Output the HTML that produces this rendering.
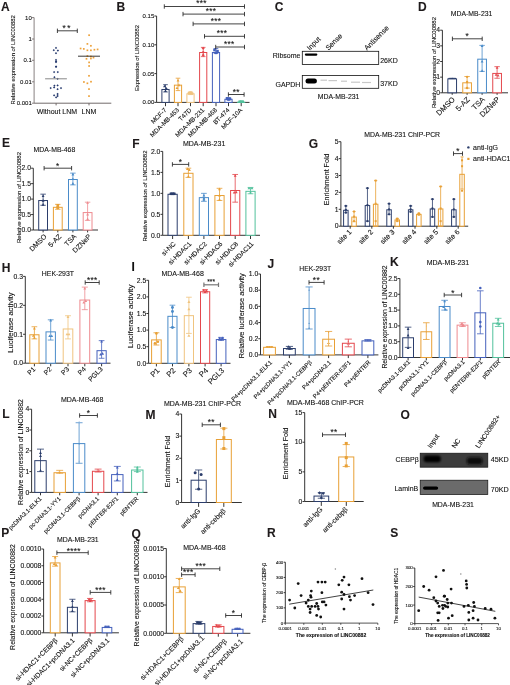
<!DOCTYPE html><html><head><meta charset="utf-8"><style>html,body{margin:0;padding:0;background:#fff}svg{display:block}</style></head><body><svg width="510" height="685" viewBox="0 0 510 685" font-family="Liberation Sans, Arial, sans-serif" fill="#111"><rect width="510" height="685" fill="#fff"/><text x="1" y="11.3" font-size="12" font-weight="bold" fill="#1e1a1b" stroke="#1e1a1b" stroke-width="0.1">A</text>
<line x1="34.1" y1="17.6" x2="34.1" y2="103.2" stroke="#6a6262" stroke-width="0.8"/>
<line x1="31.9" y1="17.6" x2="34.1" y2="17.6" stroke="#6a6262" stroke-width="0.8"/>
<text x="31.8" y="19.58" font-size="6" text-anchor="end" stroke="#111" stroke-width="0.1">10</text>
<line x1="31.9" y1="39" x2="34.1" y2="39" stroke="#6a6262" stroke-width="0.8"/>
<text x="31.8" y="40.98" font-size="6" text-anchor="end" stroke="#111" stroke-width="0.1">1</text>
<line x1="31.9" y1="60.3" x2="34.1" y2="60.3" stroke="#6a6262" stroke-width="0.8"/>
<text x="31.8" y="62.28" font-size="6" text-anchor="end" stroke="#111" stroke-width="0.1">0.1</text>
<line x1="31.9" y1="81.8" x2="34.1" y2="81.8" stroke="#6a6262" stroke-width="0.8"/>
<text x="31.8" y="83.78" font-size="6" text-anchor="end" stroke="#111" stroke-width="0.1">0.01</text>
<line x1="31.9" y1="103.2" x2="34.1" y2="103.2" stroke="#6a6262" stroke-width="0.8"/>
<text x="31.8" y="105.18" font-size="6" text-anchor="end" stroke="#111" stroke-width="0.1">0.001</text>
<line x1="34.1" y1="103.2" x2="111.3" y2="103.2" stroke="#6a6262" stroke-width="0.95"/>
<line x1="56.1" y1="103.2" x2="56.1" y2="105.4" stroke="#6a6262" stroke-width="0.95"/>
<line x1="89" y1="103.2" x2="89" y2="105.4" stroke="#6a6262" stroke-width="0.95"/>
<text x="15.4" y="59.8" font-size="5.9" text-anchor="middle" transform="rotate(-90 15.4 59.8)" stroke="#111" stroke-width="0.1">Relative expression of LINC00882</text>
<text x="56.9" y="114" font-size="7" text-anchor="middle" stroke="#111" stroke-width="0.1">Without LNM</text>
<text x="88.9" y="114" font-size="7" text-anchor="middle" stroke="#111" stroke-width="0.1">LNM</text>
<line x1="57.4" y1="30.8" x2="77.3" y2="30.8" stroke="#222" stroke-width="0.85"/>
<line x1="57.4" y1="28.6" x2="57.4" y2="33" stroke="#222" stroke-width="0.85"/>
<line x1="77.3" y1="28.6" x2="77.3" y2="33" stroke="#222" stroke-width="0.85"/>
<text x="67.35" y="31.1" font-size="8.2" text-anchor="middle" stroke="#111" stroke-width="0.1" letter-spacing="1.6">**</text>
<path d="M56 46.76L57.14 47.9L56 49.04L54.86 47.9Z" fill="#263a6e"/>
<path d="M53.8 49.06L54.94 50.2L53.8 51.34L52.66 50.2Z" fill="#263a6e"/>
<path d="M57.9 49.46L59.04 50.6L57.9 51.74L56.76 50.6Z" fill="#263a6e"/>
<path d="M56 52.06L57.14 53.2L56 54.34L54.86 53.2Z" fill="#263a6e"/>
<path d="M56 58.76L57.14 59.9L56 61.04L54.86 59.9Z" fill="#263a6e"/>
<path d="M56 60.86L57.14 62L56 63.14L54.86 62Z" fill="#263a6e"/>
<path d="M56 65.66L57.14 66.8L56 67.94L54.86 66.8Z" fill="#263a6e"/>
<path d="M56.1 60.26L57.24 61.4L56.1 62.54L54.96 61.4Z" fill="#263a6e"/>
<path d="M56.1 65.46L57.24 66.6L56.1 67.74L54.96 66.6Z" fill="#263a6e"/>
<path d="M54.1 70.96L55.24 72.1L54.1 73.24L52.96 72.1Z" fill="#263a6e"/>
<path d="M57.8 70.96L58.94 72.1L57.8 73.24L56.66 72.1Z" fill="#263a6e"/>
<path d="M54.4 76.06L55.54 77.2L54.4 78.34L53.26 77.2Z" fill="#263a6e"/>
<path d="M57.6 77.66L58.74 78.8L57.6 79.94L56.46 78.8Z" fill="#263a6e"/>
<path d="M54.4 84.56L55.54 85.7L54.4 86.84L53.26 85.7Z" fill="#263a6e"/>
<path d="M57.6 84.26L58.74 85.4L57.6 86.54L56.46 85.4Z" fill="#263a6e"/>
<path d="M50.7 86.96L51.84 88.1L50.7 89.24L49.56 88.1Z" fill="#263a6e"/>
<path d="M54.1 86.26L55.24 87.4L54.1 88.54L52.96 87.4Z" fill="#263a6e"/>
<path d="M57.6 88.06L58.74 89.2L57.6 90.34L56.46 89.2Z" fill="#263a6e"/>
<path d="M61 86.96L62.14 88.1L61 89.24L59.86 88.1Z" fill="#263a6e"/>
<path d="M54.1 94.16L55.24 95.3L54.1 96.44L52.96 95.3Z" fill="#263a6e"/>
<path d="M57.6 92.86L58.74 94L57.6 95.14L56.46 94Z" fill="#263a6e"/>
<path d="M57.6 94.86L58.74 96L57.6 97.14L56.46 96Z" fill="#263a6e"/>
<path d="M56.1 96.16L57.24 97.3L56.1 98.44L54.96 97.3Z" fill="#263a6e"/>
<line x1="45.1" y1="78.8" x2="66.9" y2="78.8" stroke="#888" stroke-width="1"/>
<rect x="88.25" y="34.35" width="1.7" height="1.7" fill="#eda13a"/>
<rect x="86.55" y="43.05" width="1.7" height="1.7" fill="#eda13a"/>
<rect x="90.05" y="44.95" width="1.7" height="1.7" fill="#eda13a"/>
<rect x="79.75" y="47.65" width="1.7" height="1.7" fill="#eda13a"/>
<rect x="82.95" y="48.05" width="1.7" height="1.7" fill="#eda13a"/>
<rect x="86.55" y="49.45" width="1.7" height="1.7" fill="#eda13a"/>
<rect x="90.05" y="49.45" width="1.7" height="1.7" fill="#eda13a"/>
<rect x="93.55" y="48.85" width="1.7" height="1.7" fill="#eda13a"/>
<rect x="96.75" y="48.55" width="1.7" height="1.7" fill="#eda13a"/>
<rect x="86.55" y="55.15" width="1.7" height="1.7" fill="#eda13a"/>
<rect x="90.05" y="55.65" width="1.7" height="1.7" fill="#eda13a"/>
<rect x="85.65" y="57.95" width="1.7" height="1.7" fill="#eda13a"/>
<rect x="90.05" y="57.65" width="1.7" height="1.7" fill="#eda13a"/>
<rect x="92.65" y="56.75" width="1.7" height="1.7" fill="#eda13a"/>
<rect x="88.25" y="61.55" width="1.7" height="1.7" fill="#eda13a"/>
<rect x="88.25" y="65.15" width="1.7" height="1.7" fill="#eda13a"/>
<rect x="88.15" y="74.95" width="1.7" height="1.7" fill="#eda13a"/>
<rect x="83.05" y="81.15" width="1.7" height="1.7" fill="#eda13a"/>
<rect x="86.55" y="82.45" width="1.7" height="1.7" fill="#eda13a"/>
<rect x="90.15" y="80.85" width="1.7" height="1.7" fill="#eda13a"/>
<rect x="88.15" y="88.25" width="1.7" height="1.7" fill="#eda13a"/>
<rect x="88.15" y="95.25" width="1.7" height="1.7" fill="#eda13a"/>
<line x1="78" y1="56.2" x2="100" y2="56.2" stroke="#222" stroke-width="0.9"/>
<text x="116.6" y="11.2" font-size="12" font-weight="bold" fill="#1e1a1b" stroke="#1e1a1b" stroke-width="0.1">B</text>
<line x1="156.6" y1="16" x2="156.6" y2="102.4" stroke="#2a2a2a" stroke-width="0.95"/>
<line x1="154.4" y1="16" x2="156.6" y2="16" stroke="#2a2a2a" stroke-width="0.95"/>
<text x="154.3" y="17.98" font-size="6" text-anchor="end" stroke="#111" stroke-width="0.1">0.15</text>
<line x1="154.4" y1="44.8" x2="156.6" y2="44.8" stroke="#2a2a2a" stroke-width="0.95"/>
<text x="154.3" y="46.78" font-size="6" text-anchor="end" stroke="#111" stroke-width="0.1">0.10</text>
<line x1="154.4" y1="73.6" x2="156.6" y2="73.6" stroke="#2a2a2a" stroke-width="0.95"/>
<text x="154.3" y="75.58" font-size="6" text-anchor="end" stroke="#111" stroke-width="0.1">0.05</text>
<line x1="154.4" y1="102.4" x2="156.6" y2="102.4" stroke="#2a2a2a" stroke-width="0.95"/>
<text x="154.3" y="104.38" font-size="6" text-anchor="end" stroke="#111" stroke-width="0.1">0.00</text>
<line x1="156.6" y1="102.4" x2="249.5" y2="102.4" stroke="#2a2a2a" stroke-width="0.95"/>
<line x1="165.5" y1="102.4" x2="165.5" y2="106.2" stroke="#2a2a2a" stroke-width="0.95"/>
<line x1="178" y1="102.4" x2="178" y2="106.2" stroke="#2a2a2a" stroke-width="0.95"/>
<line x1="190.5" y1="102.4" x2="190.5" y2="106.2" stroke="#2a2a2a" stroke-width="0.95"/>
<line x1="203.2" y1="102.4" x2="203.2" y2="106.2" stroke="#2a2a2a" stroke-width="0.95"/>
<line x1="216" y1="102.4" x2="216" y2="106.2" stroke="#2a2a2a" stroke-width="0.95"/>
<line x1="228.5" y1="102.4" x2="228.5" y2="106.2" stroke="#2a2a2a" stroke-width="0.95"/>
<line x1="241.2" y1="102.4" x2="241.2" y2="106.2" stroke="#2a2a2a" stroke-width="0.95"/>
<text x="138.97" y="58" font-size="5.8" text-anchor="middle" transform="rotate(-90 138.97 58)" stroke="#111" stroke-width="0.1">Expression of LINC00882</text>
<rect x="161.9" y="89.48" width="7.2" height="12.92" fill="#fff" stroke="#2b3d6b" stroke-width="1"/>
<line x1="165.5" y1="84.66" x2="165.5" y2="91.97" stroke="#2b3d6b" stroke-width="0.8"/>
<line x1="163.2" y1="84.66" x2="167.8" y2="84.66" stroke="#2b3d6b" stroke-width="0.8"/>
<line x1="163.2" y1="91.97" x2="167.8" y2="91.97" stroke="#2b3d6b" stroke-width="0.8"/>
<path d="M164.5 84.71L163.07 87.31L165.93 87.31Z" fill="#2b3d6b"/>
<path d="M166.5 87.02L165.07 89.62L167.93 89.62Z" fill="#2b3d6b"/>
<path d="M165.5 89.32L164.07 91.92L166.93 91.92Z" fill="#2b3d6b"/>
<rect x="174.4" y="85.16" width="7.2" height="17.24" fill="#fff" stroke="#e8a036" stroke-width="1"/>
<line x1="178" y1="78.21" x2="178" y2="90.59" stroke="#e8a036" stroke-width="0.8"/>
<line x1="175.7" y1="78.21" x2="180.3" y2="78.21" stroke="#e8a036" stroke-width="0.8"/>
<line x1="175.7" y1="90.59" x2="180.3" y2="90.59" stroke="#e8a036" stroke-width="0.8"/>
<path d="M178 78.95L176.57 81.55L179.43 81.55Z" fill="#e8a036"/>
<path d="M179 83.56L177.57 86.16L180.43 86.16Z" fill="#e8a036"/>
<path d="M177 86.44L175.57 89.04L178.43 89.04Z" fill="#e8a036"/>
<rect x="186.9" y="93.8" width="7.2" height="8.6" fill="#fff" stroke="#f0c47f" stroke-width="1"/>
<line x1="190.5" y1="91.92" x2="190.5" y2="94.57" stroke="#f0c47f" stroke-width="0.8"/>
<line x1="188.2" y1="91.92" x2="192.8" y2="91.92" stroke="#f0c47f" stroke-width="0.8"/>
<line x1="188.2" y1="94.57" x2="192.8" y2="94.57" stroke="#f0c47f" stroke-width="0.8"/>
<rect x="187.7" y="91.88" width="2.6" height="2.6" fill="#f0c47f"/>
<rect x="189.2" y="91.31" width="2.6" height="2.6" fill="#f0c47f"/>
<rect x="190.7" y="92.17" width="2.6" height="2.6" fill="#f0c47f"/>
<rect x="199.6" y="52.5" width="7.2" height="49.9" fill="#fff" stroke="#e4474c" stroke-width="1"/>
<line x1="203.2" y1="47.39" x2="203.2" y2="56.61" stroke="#e4474c" stroke-width="0.8"/>
<line x1="200.9" y1="47.39" x2="205.5" y2="47.39" stroke="#e4474c" stroke-width="0.8"/>
<line x1="200.9" y1="56.61" x2="205.5" y2="56.61" stroke="#e4474c" stroke-width="0.8"/>
<path d="M203.2 46.7L204.76 48.26L203.2 49.82L201.64 48.26Z" fill="#e4474c"/>
<path d="M203.2 53.61L204.76 55.17L203.2 56.73L201.64 55.17Z" fill="#e4474c"/>
<path d="M203.2 50.73L204.76 52.29L203.2 53.85L201.64 52.29Z" fill="#e4474c"/>
<rect x="212.4" y="52.5" width="7.2" height="49.9" fill="#fff" stroke="#4561bc" stroke-width="1"/>
<line x1="216" y1="48.54" x2="216" y2="53.44" stroke="#4561bc" stroke-width="0.8"/>
<line x1="213.7" y1="48.54" x2="218.3" y2="48.54" stroke="#4561bc" stroke-width="0.8"/>
<line x1="213.7" y1="53.44" x2="218.3" y2="53.44" stroke="#4561bc" stroke-width="0.8"/>
<rect x="213.2" y="48.68" width="2.6" height="2.6" fill="#4561bc"/>
<rect x="216.2" y="49.84" width="2.6" height="2.6" fill="#4561bc"/>
<rect x="214.7" y="51.56" width="2.6" height="2.6" fill="#4561bc"/>
<rect x="224.9" y="99.27" width="7.2" height="3.13" fill="#fff" stroke="#4561bc" stroke-width="1"/>
<line x1="228.5" y1="97.5" x2="228.5" y2="99.81" stroke="#4561bc" stroke-width="0.8"/>
<line x1="226.2" y1="97.5" x2="230.8" y2="97.5" stroke="#4561bc" stroke-width="0.8"/>
<line x1="226.2" y1="99.81" x2="230.8" y2="99.81" stroke="#4561bc" stroke-width="0.8"/>
<rect x="225.7" y="97.07" width="2.6" height="2.6" fill="#4561bc"/>
<rect x="228.7" y="97.64" width="2.6" height="2.6" fill="#4561bc"/>
<rect x="227.2" y="98.22" width="2.6" height="2.6" fill="#4561bc"/>
<rect x="237.6" y="102.21" width="7.2" height="0.19" fill="#fff" stroke="#52c19c" stroke-width="1"/>
<line x1="241.2" y1="101.36" x2="241.2" y2="101.94" stroke="#52c19c" stroke-width="0.8"/>
<line x1="238.9" y1="101.36" x2="243.5" y2="101.36" stroke="#52c19c" stroke-width="0.8"/>
<line x1="238.9" y1="101.94" x2="243.5" y2="101.94" stroke="#52c19c" stroke-width="0.8"/>
<rect x="238.4" y="100.41" width="2.6" height="2.6" fill="#52c19c"/>
<rect x="241.4" y="100.41" width="2.6" height="2.6" fill="#52c19c"/>
<rect x="239.9" y="100.41" width="2.6" height="2.6" fill="#52c19c"/>
<line x1="164.3" y1="6.5" x2="244.5" y2="6.5" stroke="#222" stroke-width="0.85"/>
<line x1="164.3" y1="4.3" x2="164.3" y2="8.7" stroke="#222" stroke-width="0.85"/>
<line x1="244.5" y1="4.3" x2="244.5" y2="8.7" stroke="#222" stroke-width="0.85"/>
<text x="201.6" y="6.2" font-size="8.2" text-anchor="middle" stroke="#111" stroke-width="0.1" letter-spacing="0.3">***</text>
<line x1="183" y1="14.1" x2="244.5" y2="14.1" stroke="#222" stroke-width="0.85"/>
<line x1="183" y1="11.9" x2="183" y2="16.3" stroke="#222" stroke-width="0.85"/>
<line x1="244.5" y1="11.9" x2="244.5" y2="16.3" stroke="#222" stroke-width="0.85"/>
<text x="210.95" y="13.8" font-size="8.2" text-anchor="middle" stroke="#111" stroke-width="0.1" letter-spacing="0.3">***</text>
<line x1="193.1" y1="23.9" x2="244.5" y2="23.9" stroke="#222" stroke-width="0.85"/>
<line x1="193.1" y1="21.7" x2="193.1" y2="26.1" stroke="#222" stroke-width="0.85"/>
<line x1="244.5" y1="21.7" x2="244.5" y2="26.1" stroke="#222" stroke-width="0.85"/>
<text x="216" y="23.6" font-size="8.2" text-anchor="middle" stroke="#111" stroke-width="0.1" letter-spacing="0.3">***</text>
<line x1="204.5" y1="36.3" x2="244.5" y2="36.3" stroke="#222" stroke-width="0.85"/>
<line x1="204.5" y1="34.1" x2="204.5" y2="38.5" stroke="#222" stroke-width="0.85"/>
<line x1="244.5" y1="34.1" x2="244.5" y2="38.5" stroke="#222" stroke-width="0.85"/>
<text x="221.9" y="36" font-size="8.2" text-anchor="middle" stroke="#111" stroke-width="0.1" letter-spacing="0.3">***</text>
<line x1="215.7" y1="47" x2="244.5" y2="47" stroke="#222" stroke-width="0.85"/>
<line x1="215.7" y1="44.8" x2="215.7" y2="49.2" stroke="#222" stroke-width="0.85"/>
<line x1="244.5" y1="44.8" x2="244.5" y2="49.2" stroke="#222" stroke-width="0.85"/>
<text x="229.3" y="46.7" font-size="8.2" text-anchor="middle" stroke="#111" stroke-width="0.1" letter-spacing="0.3">***</text>
<line x1="228.4" y1="94.5" x2="244.1" y2="94.5" stroke="#222" stroke-width="0.85"/>
<line x1="228.4" y1="92.3" x2="228.4" y2="96.7" stroke="#222" stroke-width="0.85"/>
<line x1="244.1" y1="92.3" x2="244.1" y2="96.7" stroke="#222" stroke-width="0.85"/>
<text x="236.25" y="94.5" font-size="8.2" text-anchor="middle" stroke="#111" stroke-width="0.1" letter-spacing="0.3">**</text>
<text x="167" y="110.5" font-size="6.3" text-anchor="end" transform="rotate(-45 167 110.5)" stroke="#111" stroke-width="0.1">MCF-7</text>
<text x="179.5" y="110.5" font-size="6.3" text-anchor="end" transform="rotate(-45 179.5 110.5)" stroke="#111" stroke-width="0.1">MDA-MB-453</text>
<text x="192" y="110.5" font-size="6.3" text-anchor="end" transform="rotate(-45 192 110.5)" stroke="#111" stroke-width="0.1">T47D</text>
<text x="204.7" y="110.5" font-size="6.3" text-anchor="end" transform="rotate(-45 204.7 110.5)" stroke="#111" stroke-width="0.1">MDA-MB-231</text>
<text x="217.5" y="110.5" font-size="6.3" text-anchor="end" transform="rotate(-45 217.5 110.5)" stroke="#111" stroke-width="0.1">MDA-MB-468</text>
<text x="230" y="110.5" font-size="6.3" text-anchor="end" transform="rotate(-45 230 110.5)" stroke="#111" stroke-width="0.1">BT-474</text>
<text x="242.7" y="110.5" font-size="6.3" text-anchor="end" transform="rotate(-45 242.7 110.5)" stroke="#111" stroke-width="0.1">MCF-10A</text>
<text x="274.8" y="11.1" font-size="12" font-weight="bold" fill="#1e1a1b" stroke="#1e1a1b" stroke-width="0.1">C</text>
<rect x="302.3" y="51.3" width="76.4" height="13.2" fill="#fff" stroke="#111" stroke-width="0.8"/>
<rect x="302.3" y="75.4" width="76.4" height="12.9" fill="#fff" stroke="#111" stroke-width="0.8"/>
<defs><filter id="bl1" x="-20%" y="-50%" width="140%" height="200%"><feGaussianBlur stdDeviation="0.5"/></filter><filter id="bl2" x="-20%" y="-50%" width="140%" height="200%"><feGaussianBlur stdDeviation="0.9"/></filter></defs>
<rect x="304.8" y="53.4" width="12.6" height="2.3" rx="1.1" fill="#000" filter="url(#bl1)"/>
<rect x="305.5" y="78.5" width="11.4" height="5.0" rx="2.5" fill="#000" filter="url(#bl1)"/>
<rect x="320.5" y="79.6" width="6.5" height="1.2" fill="#c8c8c8" filter="url(#bl1)"/>
<rect x="328.5" y="80" width="8.5" height="1.2" fill="#c8c8c8" filter="url(#bl1)"/>
<rect x="341" y="80.6" width="6" height="1.2" fill="#c8c8c8" filter="url(#bl1)"/>
<rect x="351" y="81.6" width="9" height="1.2" fill="#c8c8c8" filter="url(#bl1)"/>
<rect x="362" y="81.9" width="9" height="1.2" fill="#c8c8c8" filter="url(#bl1)"/>
<text x="300.4" y="58.1" font-size="7" text-anchor="end" stroke="#111" stroke-width="0.1">Ribsome</text>
<text x="300.4" y="87.4" font-size="7" text-anchor="end" stroke="#111" stroke-width="0.1">GAPDH</text>
<text x="380.2" y="63.4" font-size="7" stroke="#111" stroke-width="0.1">26KD</text>
<text x="380.2" y="85.7" font-size="7" stroke="#111" stroke-width="0.1">37KD</text>
<text x="338.6" y="98.9" font-size="6.9" text-anchor="middle" stroke="#111" stroke-width="0.1">MDA-MB-231</text>
<text x="309.8" y="50.8" font-size="7.2" transform="rotate(-45 309.8 50.8)" stroke="#111" stroke-width="0.1">Input</text>
<text x="328.4" y="50.8" font-size="7.2" transform="rotate(-45 328.4 50.8)" stroke="#111" stroke-width="0.1">Sense</text>
<text x="367" y="50.8" font-size="7.2" transform="rotate(-45 367 50.8)" stroke="#111" stroke-width="0.1">Antisense</text>
<text x="418" y="10.6" font-size="12" font-weight="bold" fill="#1e1a1b" stroke="#1e1a1b" stroke-width="0.1">D</text>
<text x="471.6" y="15.6" font-size="6.85" text-anchor="middle" stroke="#111" stroke-width="0.1">MDA-MB-231</text>
<line x1="442.4" y1="30.2" x2="442.4" y2="92.8" stroke="#2a2a2a" stroke-width="0.95"/>
<line x1="440.2" y1="30.2" x2="442.4" y2="30.2" stroke="#2a2a2a" stroke-width="0.95"/>
<text x="440.1" y="32.44" font-size="6.8" text-anchor="end" stroke="#111" stroke-width="0.1">4</text>
<line x1="440.2" y1="45.85" x2="442.4" y2="45.85" stroke="#2a2a2a" stroke-width="0.95"/>
<text x="440.1" y="48.09" font-size="6.8" text-anchor="end" stroke="#111" stroke-width="0.1">3</text>
<line x1="440.2" y1="61.5" x2="442.4" y2="61.5" stroke="#2a2a2a" stroke-width="0.95"/>
<text x="440.1" y="63.74" font-size="6.8" text-anchor="end" stroke="#111" stroke-width="0.1">2</text>
<line x1="440.2" y1="77.15" x2="442.4" y2="77.15" stroke="#2a2a2a" stroke-width="0.95"/>
<text x="440.1" y="79.39" font-size="6.8" text-anchor="end" stroke="#111" stroke-width="0.1">1</text>
<line x1="440.2" y1="92.8" x2="442.4" y2="92.8" stroke="#2a2a2a" stroke-width="0.95"/>
<text x="440.1" y="95.04" font-size="6.8" text-anchor="end" stroke="#111" stroke-width="0.1">0</text>
<line x1="442.4" y1="92.8" x2="508" y2="92.8" stroke="#2a2a2a" stroke-width="0.95"/>
<line x1="452.2" y1="92.8" x2="452.2" y2="94.8" stroke="#2a2a2a" stroke-width="0.95"/>
<line x1="467.1" y1="92.8" x2="467.1" y2="94.8" stroke="#2a2a2a" stroke-width="0.95"/>
<line x1="482.1" y1="92.8" x2="482.1" y2="94.8" stroke="#2a2a2a" stroke-width="0.95"/>
<line x1="497.1" y1="92.8" x2="497.1" y2="94.8" stroke="#2a2a2a" stroke-width="0.95"/>
<text x="436.34" y="62.5" font-size="6" text-anchor="middle" transform="rotate(-90 436.34 62.5)" stroke="#111" stroke-width="0.1">Relative expression of LINC00882</text>
<rect x="447.85" y="78.9" width="8.7" height="13.9" fill="#fff" stroke="#2b3d6b" stroke-width="1"/>
<line x1="452.2" y1="78.25" x2="452.2" y2="78.56" stroke="#2b3d6b" stroke-width="0.8"/>
<line x1="449.48" y1="78.25" x2="454.92" y2="78.25" stroke="#2b3d6b" stroke-width="0.8"/>
<line x1="449.48" y1="78.56" x2="454.92" y2="78.56" stroke="#2b3d6b" stroke-width="0.8"/>
<circle cx="449" cy="78.4" r="0.7" fill="#2b3d6b"/>
<circle cx="452.2" cy="78.4" r="0.7" fill="#2b3d6b"/>
<circle cx="455.4" cy="78.4" r="0.7" fill="#2b3d6b"/>
<rect x="462.75" y="82.81" width="8.7" height="9.99" fill="#fff" stroke="#e8a036" stroke-width="1"/>
<line x1="467.1" y1="76.52" x2="467.1" y2="88.11" stroke="#e8a036" stroke-width="0.8"/>
<line x1="464.38" y1="76.52" x2="469.82" y2="76.52" stroke="#e8a036" stroke-width="0.8"/>
<line x1="464.38" y1="88.11" x2="469.82" y2="88.11" stroke="#e8a036" stroke-width="0.8"/>
<circle cx="467.1" cy="76.84" r="1.2" fill="#e8a036"/>
<circle cx="467.1" cy="82" r="1.2" fill="#e8a036"/>
<circle cx="467.1" cy="87.95" r="1.2" fill="#e8a036"/>
<rect x="477.75" y="59.18" width="8.7" height="33.62" fill="#fff" stroke="#4a8bc9" stroke-width="1"/>
<line x1="482.1" y1="45.38" x2="482.1" y2="71.36" stroke="#4a8bc9" stroke-width="0.8"/>
<line x1="479.38" y1="45.38" x2="484.82" y2="45.38" stroke="#4a8bc9" stroke-width="0.8"/>
<line x1="479.38" y1="71.36" x2="484.82" y2="71.36" stroke="#4a8bc9" stroke-width="0.8"/>
<path d="M482.1 44.29L480.67 46.89L483.53 46.89Z" fill="#4a8bc9"/>
<path d="M482.1 59.94L480.67 62.54L483.53 62.54Z" fill="#4a8bc9"/>
<path d="M482.1 69.33L480.67 71.93L483.53 71.93Z" fill="#4a8bc9"/>
<rect x="492.75" y="73.42" width="8.7" height="19.38" fill="#fff" stroke="#e4474c" stroke-width="1"/>
<line x1="497.1" y1="66.66" x2="497.1" y2="78.25" stroke="#e4474c" stroke-width="0.8"/>
<line x1="494.38" y1="66.66" x2="499.82" y2="66.66" stroke="#e4474c" stroke-width="0.8"/>
<line x1="494.38" y1="78.25" x2="499.82" y2="78.25" stroke="#e4474c" stroke-width="0.8"/>
<path d="M497.1 66.2L495.67 68.8L498.53 68.8Z" fill="#e4474c"/>
<path d="M496.1 73.24L494.67 75.84L497.53 75.84Z" fill="#e4474c"/>
<path d="M498.1 74.02L496.67 76.62L499.53 76.62Z" fill="#e4474c"/>
<line x1="452.4" y1="38.8" x2="482.2" y2="38.8" stroke="#222" stroke-width="0.85"/>
<line x1="452.4" y1="36.6" x2="452.4" y2="41" stroke="#222" stroke-width="0.85"/>
<line x1="482.2" y1="36.6" x2="482.2" y2="41" stroke="#222" stroke-width="0.85"/>
<text x="467.3" y="39.4" font-size="8.2" text-anchor="middle" stroke="#111" stroke-width="0.1" letter-spacing="0.3">*</text>
<text x="455.4" y="100" font-size="7.6" text-anchor="end" transform="rotate(-45 455.4 100)" stroke="#111" stroke-width="0.1">DMSO</text>
<text x="470.3" y="100" font-size="7.6" text-anchor="end" transform="rotate(-45 470.3 100)" stroke="#111" stroke-width="0.1">5-AZ</text>
<text x="485.3" y="100" font-size="7.6" text-anchor="end" transform="rotate(-45 485.3 100)" stroke="#111" stroke-width="0.1">TSA</text>
<text x="500.3" y="100" font-size="7.6" text-anchor="end" transform="rotate(-45 500.3 100)" stroke="#111" stroke-width="0.1">DZNeP</text>
<text x="2" y="147.3" font-size="12" font-weight="bold" fill="#1e1a1b" stroke="#1e1a1b" stroke-width="0.1">E</text>
<text x="54.4" y="152" font-size="6.9" text-anchor="middle" stroke="#111" stroke-width="0.1">MDA-MB-468</text>
<line x1="33.3" y1="168.2" x2="33.3" y2="230" stroke="#2a2a2a" stroke-width="0.95"/>
<line x1="31.1" y1="168.2" x2="33.3" y2="168.2" stroke="#2a2a2a" stroke-width="0.95"/>
<text x="31" y="170.44" font-size="6.8" text-anchor="end" stroke="#111" stroke-width="0.1">2.0</text>
<line x1="31.1" y1="183.65" x2="33.3" y2="183.65" stroke="#2a2a2a" stroke-width="0.95"/>
<text x="31" y="185.89" font-size="6.8" text-anchor="end" stroke="#111" stroke-width="0.1">1.5</text>
<line x1="31.1" y1="199.1" x2="33.3" y2="199.1" stroke="#2a2a2a" stroke-width="0.95"/>
<text x="31" y="201.34" font-size="6.8" text-anchor="end" stroke="#111" stroke-width="0.1">1.0</text>
<line x1="31.1" y1="214.55" x2="33.3" y2="214.55" stroke="#2a2a2a" stroke-width="0.95"/>
<text x="31" y="216.79" font-size="6.8" text-anchor="end" stroke="#111" stroke-width="0.1">0.5</text>
<line x1="31.1" y1="230" x2="33.3" y2="230" stroke="#2a2a2a" stroke-width="0.95"/>
<text x="31" y="232.24" font-size="6.8" text-anchor="end" stroke="#111" stroke-width="0.1">0.0</text>
<line x1="33.3" y1="230" x2="98" y2="230" stroke="#2a2a2a" stroke-width="0.95"/>
<line x1="43.1" y1="230" x2="43.1" y2="232.4" stroke="#2a2a2a" stroke-width="0.95"/>
<line x1="57.8" y1="230" x2="57.8" y2="232.4" stroke="#2a2a2a" stroke-width="0.95"/>
<line x1="72.9" y1="230" x2="72.9" y2="232.4" stroke="#2a2a2a" stroke-width="0.95"/>
<line x1="87.6" y1="230" x2="87.6" y2="232.4" stroke="#2a2a2a" stroke-width="0.95"/>
<text x="20.94" y="197.5" font-size="6" text-anchor="middle" transform="rotate(-90 20.94 197.5)" stroke="#111" stroke-width="0.1">Relative expression of LINC00882</text>
<rect x="38.7" y="200.53" width="8.8" height="29.47" fill="#fff" stroke="#2b3d6b" stroke-width="1"/>
<line x1="43.1" y1="194.16" x2="43.1" y2="205.28" stroke="#2b3d6b" stroke-width="0.8"/>
<line x1="40.36" y1="194.16" x2="45.84" y2="194.16" stroke="#2b3d6b" stroke-width="0.8"/>
<line x1="40.36" y1="205.28" x2="45.84" y2="205.28" stroke="#2b3d6b" stroke-width="0.8"/>
<path d="M43.1 194.45L41.67 197.05L44.53 197.05Z" fill="#2b3d6b"/>
<path d="M43.1 199.08L41.67 201.68L44.53 201.68Z" fill="#2b3d6b"/>
<path d="M43.1 203.1L41.67 205.7L44.53 205.7Z" fill="#2b3d6b"/>
<rect x="53.4" y="207.32" width="8.8" height="22.68" fill="#fff" stroke="#e8a036" stroke-width="1"/>
<line x1="57.8" y1="204.35" x2="57.8" y2="209.3" stroke="#e8a036" stroke-width="0.8"/>
<line x1="55.06" y1="204.35" x2="60.54" y2="204.35" stroke="#e8a036" stroke-width="0.8"/>
<line x1="55.06" y1="209.3" x2="60.54" y2="209.3" stroke="#e8a036" stroke-width="0.8"/>
<rect x="56.5" y="203.98" width="2.6" height="2.6" fill="#e8a036"/>
<rect x="56.5" y="206.14" width="2.6" height="2.6" fill="#e8a036"/>
<rect x="56.5" y="206.45" width="2.6" height="2.6" fill="#e8a036"/>
<rect x="68.5" y="179.51" width="8.8" height="50.49" fill="#fff" stroke="#4a8bc9" stroke-width="1"/>
<line x1="72.9" y1="173.14" x2="72.9" y2="184.89" stroke="#4a8bc9" stroke-width="0.8"/>
<line x1="70.16" y1="173.14" x2="75.64" y2="173.14" stroke="#4a8bc9" stroke-width="0.8"/>
<line x1="70.16" y1="184.89" x2="75.64" y2="184.89" stroke="#4a8bc9" stroke-width="0.8"/>
<path d="M72.9 172.82L71.47 175.42L74.33 175.42Z" fill="#4a8bc9"/>
<path d="M72.9 177.45L71.47 180.05L74.33 180.05Z" fill="#4a8bc9"/>
<path d="M72.9 182.09L71.47 184.69L74.33 184.69Z" fill="#4a8bc9"/>
<rect x="83.2" y="212.58" width="8.8" height="17.42" fill="#fff" stroke="#ee8a8f" stroke-width="1"/>
<line x1="87.6" y1="202.19" x2="87.6" y2="220.42" stroke="#ee8a8f" stroke-width="0.8"/>
<line x1="84.86" y1="202.19" x2="90.34" y2="202.19" stroke="#ee8a8f" stroke-width="0.8"/>
<line x1="84.86" y1="220.42" x2="90.34" y2="220.42" stroke="#ee8a8f" stroke-width="0.8"/>
<path d="M87.6 201.25L86.17 203.85L89.03 203.85Z" fill="#ee8a8f"/>
<path d="M87.6 212.99L86.17 215.59L89.03 215.59Z" fill="#ee8a8f"/>
<path d="M87.6 217.62L86.17 220.22L89.03 220.22Z" fill="#ee8a8f"/>
<line x1="44.1" y1="168.2" x2="71.6" y2="168.2" stroke="#222" stroke-width="0.85"/>
<line x1="44.1" y1="166" x2="44.1" y2="170.4" stroke="#222" stroke-width="0.85"/>
<line x1="71.6" y1="166" x2="71.6" y2="170.4" stroke="#222" stroke-width="0.85"/>
<text x="57.85" y="168.8" font-size="8.2" text-anchor="middle" stroke="#111" stroke-width="0.1" letter-spacing="0.3">*</text>
<text x="47.1" y="237" font-size="7" text-anchor="end" transform="rotate(-45 47.1 237)" stroke="#111" stroke-width="0.1">DMSO</text>
<text x="61.8" y="237" font-size="7" text-anchor="end" transform="rotate(-45 61.8 237)" stroke="#111" stroke-width="0.1">5-AZ</text>
<text x="76.9" y="237" font-size="7" text-anchor="end" transform="rotate(-45 76.9 237)" stroke="#111" stroke-width="0.1">TSA</text>
<text x="91.6" y="237" font-size="7" text-anchor="end" transform="rotate(-45 91.6 237)" stroke="#111" stroke-width="0.1">DZNeP</text>
<text x="132.2" y="147.5" font-size="12" font-weight="bold" fill="#1e1a1b" stroke="#1e1a1b" stroke-width="0.1">F</text>
<text x="204.1" y="146" font-size="7" text-anchor="middle" stroke="#111" stroke-width="0.1">MDA-MB-231</text>
<line x1="162.7" y1="151.4" x2="162.7" y2="235.3" stroke="#2a2a2a" stroke-width="0.95"/>
<line x1="160.5" y1="151.4" x2="162.7" y2="151.4" stroke="#2a2a2a" stroke-width="0.95"/>
<text x="160.4" y="153.64" font-size="6.8" text-anchor="end" stroke="#111" stroke-width="0.1">2.0</text>
<line x1="160.5" y1="172.38" x2="162.7" y2="172.38" stroke="#2a2a2a" stroke-width="0.95"/>
<text x="160.4" y="174.62" font-size="6.8" text-anchor="end" stroke="#111" stroke-width="0.1">1.5</text>
<line x1="160.5" y1="193.35" x2="162.7" y2="193.35" stroke="#2a2a2a" stroke-width="0.95"/>
<text x="160.4" y="195.59" font-size="6.8" text-anchor="end" stroke="#111" stroke-width="0.1">1.0</text>
<line x1="160.5" y1="214.33" x2="162.7" y2="214.33" stroke="#2a2a2a" stroke-width="0.95"/>
<text x="160.4" y="216.57" font-size="6.8" text-anchor="end" stroke="#111" stroke-width="0.1">0.5</text>
<line x1="160.5" y1="235.3" x2="162.7" y2="235.3" stroke="#2a2a2a" stroke-width="0.95"/>
<text x="160.4" y="237.54" font-size="6.8" text-anchor="end" stroke="#111" stroke-width="0.1">0.0</text>
<line x1="162.7" y1="235.3" x2="260" y2="235.3" stroke="#2a2a2a" stroke-width="0.95"/>
<line x1="172.6" y1="235.3" x2="172.6" y2="239" stroke="#2a2a2a" stroke-width="0.95"/>
<line x1="188.4" y1="235.3" x2="188.4" y2="239" stroke="#2a2a2a" stroke-width="0.95"/>
<line x1="203.9" y1="235.3" x2="203.9" y2="239" stroke="#2a2a2a" stroke-width="0.95"/>
<line x1="219.5" y1="235.3" x2="219.5" y2="239" stroke="#2a2a2a" stroke-width="0.95"/>
<line x1="235.2" y1="235.3" x2="235.2" y2="239" stroke="#2a2a2a" stroke-width="0.95"/>
<line x1="250.5" y1="235.3" x2="250.5" y2="239" stroke="#2a2a2a" stroke-width="0.95"/>
<text x="146.64" y="196" font-size="6" text-anchor="middle" transform="rotate(-90 146.64 196)" stroke="#111" stroke-width="0.1">Relative expression of LINC00882</text>
<rect x="168" y="194.27" width="9.2" height="41.03" fill="#fff" stroke="#2b3d6b" stroke-width="1"/>
<line x1="172.6" y1="193.35" x2="172.6" y2="194.19" stroke="#2b3d6b" stroke-width="0.8"/>
<line x1="169.74" y1="193.35" x2="175.46" y2="193.35" stroke="#2b3d6b" stroke-width="0.8"/>
<line x1="169.74" y1="194.19" x2="175.46" y2="194.19" stroke="#2b3d6b" stroke-width="0.8"/>
<rect x="169.8" y="192.47" width="2.6" height="2.6" fill="#2b3d6b"/>
<rect x="171.3" y="192.47" width="2.6" height="2.6" fill="#2b3d6b"/>
<rect x="172.8" y="192.47" width="2.6" height="2.6" fill="#2b3d6b"/>
<rect x="183.8" y="173.29" width="9.2" height="62.01" fill="#fff" stroke="#e8a036" stroke-width="1"/>
<line x1="188.4" y1="168.18" x2="188.4" y2="177.41" stroke="#e8a036" stroke-width="0.8"/>
<line x1="185.54" y1="168.18" x2="191.26" y2="168.18" stroke="#e8a036" stroke-width="0.8"/>
<line x1="185.54" y1="177.41" x2="191.26" y2="177.41" stroke="#e8a036" stroke-width="0.8"/>
<path d="M187.4 167.46L185.97 170.06L188.83 170.06Z" fill="#e8a036"/>
<path d="M189.4 168.3L187.97 170.9L190.83 170.9Z" fill="#e8a036"/>
<path d="M188.4 175.01L186.97 177.61L189.83 177.61Z" fill="#e8a036"/>
<rect x="199.3" y="197.63" width="9.2" height="37.67" fill="#fff" stroke="#4a8bc9" stroke-width="1"/>
<line x1="203.9" y1="193.35" x2="203.9" y2="201.32" stroke="#4a8bc9" stroke-width="0.8"/>
<line x1="201.04" y1="193.35" x2="206.76" y2="193.35" stroke="#4a8bc9" stroke-width="0.8"/>
<line x1="201.04" y1="201.32" x2="206.76" y2="201.32" stroke="#4a8bc9" stroke-width="0.8"/>
<path d="M203.9 193.89L202.47 196.49L205.33 196.49Z" fill="#4a8bc9"/>
<path d="M203.9 198.08L202.47 200.68L205.33 200.68Z" fill="#4a8bc9"/>
<path d="M203.9 196.82L202.47 199.42L205.33 199.42Z" fill="#4a8bc9"/>
<rect x="214.9" y="195.53" width="9.2" height="39.77" fill="#fff" stroke="#e8a036" stroke-width="1"/>
<line x1="219.5" y1="188.32" x2="219.5" y2="200.48" stroke="#e8a036" stroke-width="0.8"/>
<line x1="216.64" y1="188.32" x2="222.36" y2="188.32" stroke="#e8a036" stroke-width="0.8"/>
<line x1="216.64" y1="200.48" x2="222.36" y2="200.48" stroke="#e8a036" stroke-width="0.8"/>
<path d="M219.5 187.59L218.07 190.19L220.93 190.19Z" fill="#e8a036"/>
<path d="M219.5 193.89L218.07 196.49L220.93 196.49Z" fill="#e8a036"/>
<path d="M219.5 198.08L218.07 200.68L220.93 200.68Z" fill="#e8a036"/>
<rect x="230.6" y="190.49" width="9.2" height="44.81" fill="#fff" stroke="#e4474c" stroke-width="1"/>
<line x1="235.2" y1="174.47" x2="235.2" y2="202.16" stroke="#e4474c" stroke-width="0.8"/>
<line x1="232.34" y1="174.47" x2="238.06" y2="174.47" stroke="#e4474c" stroke-width="0.8"/>
<line x1="232.34" y1="202.16" x2="238.06" y2="202.16" stroke="#e4474c" stroke-width="0.8"/>
<path d="M235.2 174.17L233.77 176.77L236.63 176.77Z" fill="#e4474c"/>
<path d="M234.2 190.95L232.77 193.55L235.63 193.55Z" fill="#e4474c"/>
<path d="M236.2 190.53L234.77 193.13L237.63 193.13Z" fill="#e4474c"/>
<rect x="245.9" y="191.33" width="9.2" height="43.97" fill="#fff" stroke="#52c19c" stroke-width="1"/>
<line x1="250.5" y1="187.48" x2="250.5" y2="193.77" stroke="#52c19c" stroke-width="0.8"/>
<line x1="247.64" y1="187.48" x2="253.36" y2="187.48" stroke="#52c19c" stroke-width="0.8"/>
<line x1="247.64" y1="193.77" x2="253.36" y2="193.77" stroke="#52c19c" stroke-width="0.8"/>
<path d="M249 186.76L247.57 189.36L250.43 189.36Z" fill="#52c19c"/>
<path d="M252 186.76L250.57 189.36L253.43 189.36Z" fill="#52c19c"/>
<path d="M250.5 190.95L249.07 193.55L251.93 193.55Z" fill="#52c19c"/>
<line x1="172.4" y1="164.4" x2="188.7" y2="164.4" stroke="#222" stroke-width="0.85"/>
<line x1="172.4" y1="162.2" x2="172.4" y2="166.6" stroke="#222" stroke-width="0.85"/>
<line x1="188.7" y1="162.2" x2="188.7" y2="166.6" stroke="#222" stroke-width="0.85"/>
<text x="180.55" y="165" font-size="8.2" text-anchor="middle" stroke="#111" stroke-width="0.1" letter-spacing="0.3">*</text>
<text x="176" y="244.3" font-size="6.6" text-anchor="end" transform="rotate(-45 176 244.3)" stroke="#111" stroke-width="0.1">si-NC</text>
<text x="191.8" y="244.3" font-size="6.6" text-anchor="end" transform="rotate(-45 191.8 244.3)" stroke="#111" stroke-width="0.1">si-HDAC1</text>
<text x="207.3" y="244.3" font-size="6.6" text-anchor="end" transform="rotate(-45 207.3 244.3)" stroke="#111" stroke-width="0.1">si-HDAC2</text>
<text x="222.9" y="244.3" font-size="6.6" text-anchor="end" transform="rotate(-45 222.9 244.3)" stroke="#111" stroke-width="0.1">si-HDAC6</text>
<text x="238.6" y="244.3" font-size="6.6" text-anchor="end" transform="rotate(-45 238.6 244.3)" stroke="#111" stroke-width="0.1">si-HDAC8</text>
<text x="253.9" y="244.3" font-size="6.6" text-anchor="end" transform="rotate(-45 253.9 244.3)" stroke="#111" stroke-width="0.1">si-HDAC11</text>
<text x="308.8" y="147.5" font-size="12" font-weight="bold" fill="#1e1a1b" stroke="#1e1a1b" stroke-width="0.1">G</text>
<text x="402.2" y="136.7" font-size="6.9" text-anchor="middle" stroke="#111" stroke-width="0.1">MDA-MB-231 ChIP-PCR</text>
<line x1="340.9" y1="141.7" x2="340.9" y2="226.2" stroke="#2a2a2a" stroke-width="0.95"/>
<line x1="338.7" y1="141.7" x2="340.9" y2="141.7" stroke="#2a2a2a" stroke-width="0.95"/>
<text x="338.6" y="143.94" font-size="6.8" text-anchor="end" stroke="#111" stroke-width="0.1">5</text>
<line x1="338.7" y1="158.6" x2="340.9" y2="158.6" stroke="#2a2a2a" stroke-width="0.95"/>
<text x="338.6" y="160.84" font-size="6.8" text-anchor="end" stroke="#111" stroke-width="0.1">4</text>
<line x1="338.7" y1="175.5" x2="340.9" y2="175.5" stroke="#2a2a2a" stroke-width="0.95"/>
<text x="338.6" y="177.74" font-size="6.8" text-anchor="end" stroke="#111" stroke-width="0.1">3</text>
<line x1="338.7" y1="192.4" x2="340.9" y2="192.4" stroke="#2a2a2a" stroke-width="0.95"/>
<text x="338.6" y="194.64" font-size="6.8" text-anchor="end" stroke="#111" stroke-width="0.1">2</text>
<line x1="338.7" y1="209.3" x2="340.9" y2="209.3" stroke="#2a2a2a" stroke-width="0.95"/>
<text x="338.6" y="211.54" font-size="6.8" text-anchor="end" stroke="#111" stroke-width="0.1">1</text>
<line x1="338.7" y1="226.2" x2="340.9" y2="226.2" stroke="#2a2a2a" stroke-width="0.95"/>
<text x="338.6" y="228.44" font-size="6.8" text-anchor="end" stroke="#111" stroke-width="0.1">0</text>
<line x1="340.9" y1="226.2" x2="468.2" y2="226.2" stroke="#2a2a2a" stroke-width="0.95"/>
<line x1="350.2" y1="226.2" x2="350.2" y2="228.7" stroke="#2a2a2a" stroke-width="0.95"/>
<line x1="371.8" y1="226.2" x2="371.8" y2="228.7" stroke="#2a2a2a" stroke-width="0.95"/>
<line x1="393.4" y1="226.2" x2="393.4" y2="228.7" stroke="#2a2a2a" stroke-width="0.95"/>
<line x1="415" y1="226.2" x2="415" y2="228.7" stroke="#2a2a2a" stroke-width="0.95"/>
<line x1="436.8" y1="226.2" x2="436.8" y2="228.7" stroke="#2a2a2a" stroke-width="0.95"/>
<line x1="458.2" y1="226.2" x2="458.2" y2="228.7" stroke="#2a2a2a" stroke-width="0.95"/>
<text x="329.01" y="179.4" font-size="7.1" text-anchor="middle" transform="rotate(-90 329.01 179.4)" stroke="#111" stroke-width="0.1">Enrichment Fold</text>
<rect x="343.6" y="210.31" width="4.5" height="15.89" fill="#fff" stroke="#2b3d6b" stroke-width="1"/>
<line x1="345.85" y1="205.92" x2="345.85" y2="212.68" stroke="#2b3d6b" stroke-width="0.8"/>
<line x1="344.25" y1="205.92" x2="347.45" y2="205.92" stroke="#2b3d6b" stroke-width="0.8"/>
<line x1="344.25" y1="212.68" x2="347.45" y2="212.68" stroke="#2b3d6b" stroke-width="0.8"/>
<circle cx="345.85" cy="205.92" r="1.15" fill="#2b3d6b"/>
<circle cx="345.85" cy="209.81" r="1.15" fill="#2b3d6b"/>
<circle cx="345.85" cy="212.68" r="1.15" fill="#2b3d6b"/>
<rect x="351.8" y="217.07" width="4.5" height="9.13" fill="#fff" stroke="#e8a036" stroke-width="1"/>
<line x1="354.05" y1="211.5" x2="354.05" y2="221.64" stroke="#e8a036" stroke-width="0.8"/>
<line x1="352.45" y1="211.5" x2="355.65" y2="211.5" stroke="#e8a036" stroke-width="0.8"/>
<line x1="352.45" y1="221.64" x2="355.65" y2="221.64" stroke="#e8a036" stroke-width="0.8"/>
<rect x="353.05" y="210.5" width="2" height="2" fill="#e8a036"/>
<rect x="353.05" y="215.57" width="2" height="2" fill="#e8a036"/>
<rect x="353.05" y="220.13" width="2" height="2" fill="#e8a036"/>
<rect x="365.2" y="205.57" width="4.5" height="20.62" fill="#fff" stroke="#2b3d6b" stroke-width="1"/>
<line x1="367.45" y1="188.17" x2="367.45" y2="221.13" stroke="#2b3d6b" stroke-width="0.8"/>
<line x1="365.85" y1="188.17" x2="369.05" y2="188.17" stroke="#2b3d6b" stroke-width="0.8"/>
<line x1="365.85" y1="221.13" x2="369.05" y2="221.13" stroke="#2b3d6b" stroke-width="0.8"/>
<circle cx="367.45" cy="188.17" r="1.15" fill="#2b3d6b"/>
<circle cx="367.45" cy="205.07" r="1.15" fill="#2b3d6b"/>
<circle cx="367.45" cy="221.13" r="1.15" fill="#2b3d6b"/>
<rect x="373.4" y="204.22" width="4.5" height="21.98" fill="#fff" stroke="#e8a036" stroke-width="1"/>
<line x1="375.65" y1="180.57" x2="375.65" y2="225.86" stroke="#e8a036" stroke-width="0.8"/>
<line x1="374.05" y1="180.57" x2="377.25" y2="180.57" stroke="#e8a036" stroke-width="0.8"/>
<line x1="374.05" y1="225.86" x2="377.25" y2="225.86" stroke="#e8a036" stroke-width="0.8"/>
<rect x="374.65" y="179.57" width="2" height="2" fill="#e8a036"/>
<rect x="374.65" y="202.72" width="2" height="2" fill="#e8a036"/>
<rect x="374.65" y="220.13" width="2" height="2" fill="#e8a036"/>
<rect x="386.8" y="209.8" width="4.5" height="16.4" fill="#fff" stroke="#2b3d6b" stroke-width="1"/>
<line x1="389.05" y1="203.72" x2="389.05" y2="214.37" stroke="#2b3d6b" stroke-width="0.8"/>
<line x1="387.45" y1="203.72" x2="390.65" y2="203.72" stroke="#2b3d6b" stroke-width="0.8"/>
<line x1="387.45" y1="214.37" x2="390.65" y2="214.37" stroke="#2b3d6b" stroke-width="0.8"/>
<circle cx="389.05" cy="203.72" r="1.15" fill="#2b3d6b"/>
<circle cx="389.05" cy="209.3" r="1.15" fill="#2b3d6b"/>
<circle cx="389.05" cy="214.37" r="1.15" fill="#2b3d6b"/>
<rect x="395" y="219.94" width="4.5" height="6.26" fill="#fff" stroke="#e8a036" stroke-width="1"/>
<line x1="397.25" y1="218.59" x2="397.25" y2="221.13" stroke="#e8a036" stroke-width="0.8"/>
<line x1="395.65" y1="218.59" x2="398.85" y2="218.59" stroke="#e8a036" stroke-width="0.8"/>
<line x1="395.65" y1="221.13" x2="398.85" y2="221.13" stroke="#e8a036" stroke-width="0.8"/>
<rect x="396.25" y="217.59" width="2" height="2" fill="#e8a036"/>
<rect x="396.25" y="218.44" width="2" height="2" fill="#e8a036"/>
<rect x="396.25" y="220.13" width="2" height="2" fill="#e8a036"/>
<rect x="408.4" y="209.8" width="4.5" height="16.4" fill="#fff" stroke="#2b3d6b" stroke-width="1"/>
<line x1="410.65" y1="205.92" x2="410.65" y2="211.83" stroke="#2b3d6b" stroke-width="0.8"/>
<line x1="409.05" y1="205.92" x2="412.25" y2="205.92" stroke="#2b3d6b" stroke-width="0.8"/>
<line x1="409.05" y1="211.83" x2="412.25" y2="211.83" stroke="#2b3d6b" stroke-width="0.8"/>
<circle cx="410.65" cy="205.92" r="1.15" fill="#2b3d6b"/>
<circle cx="410.65" cy="209.3" r="1.15" fill="#2b3d6b"/>
<circle cx="410.65" cy="211.83" r="1.15" fill="#2b3d6b"/>
<rect x="416.6" y="214.36" width="4.5" height="11.84" fill="#fff" stroke="#e8a036" stroke-width="1"/>
<line x1="418.85" y1="213.36" x2="418.85" y2="214.71" stroke="#e8a036" stroke-width="0.8"/>
<line x1="417.25" y1="213.36" x2="420.45" y2="213.36" stroke="#e8a036" stroke-width="0.8"/>
<line x1="417.25" y1="214.71" x2="420.45" y2="214.71" stroke="#e8a036" stroke-width="0.8"/>
<rect x="417.85" y="212.36" width="2" height="2" fill="#e8a036"/>
<rect x="417.85" y="212.86" width="2" height="2" fill="#e8a036"/>
<rect x="417.85" y="213.71" width="2" height="2" fill="#e8a036"/>
<rect x="430.2" y="208.95" width="4.5" height="17.25" fill="#fff" stroke="#2b3d6b" stroke-width="1"/>
<line x1="432.45" y1="199.16" x2="432.45" y2="216.91" stroke="#2b3d6b" stroke-width="0.8"/>
<line x1="430.85" y1="199.16" x2="434.05" y2="199.16" stroke="#2b3d6b" stroke-width="0.8"/>
<line x1="430.85" y1="216.91" x2="434.05" y2="216.91" stroke="#2b3d6b" stroke-width="0.8"/>
<circle cx="432.45" cy="199.16" r="1.15" fill="#2b3d6b"/>
<circle cx="432.45" cy="208.45" r="1.15" fill="#2b3d6b"/>
<circle cx="432.45" cy="216.91" r="1.15" fill="#2b3d6b"/>
<rect x="438.4" y="208.95" width="4.5" height="17.25" fill="#fff" stroke="#e8a036" stroke-width="1"/>
<line x1="440.65" y1="186.48" x2="440.65" y2="225.86" stroke="#e8a036" stroke-width="0.8"/>
<line x1="439.05" y1="186.48" x2="442.25" y2="186.48" stroke="#e8a036" stroke-width="0.8"/>
<line x1="439.05" y1="225.86" x2="442.25" y2="225.86" stroke="#e8a036" stroke-width="0.8"/>
<rect x="439.65" y="185.48" width="2" height="2" fill="#e8a036"/>
<rect x="439.65" y="207.45" width="2" height="2" fill="#e8a036"/>
<rect x="439.65" y="220.13" width="2" height="2" fill="#e8a036"/>
<rect x="451.6" y="209.8" width="4.5" height="16.4" fill="#fff" stroke="#2b3d6b" stroke-width="1"/>
<line x1="453.85" y1="199.16" x2="453.85" y2="216.91" stroke="#2b3d6b" stroke-width="0.8"/>
<line x1="452.25" y1="199.16" x2="455.45" y2="199.16" stroke="#2b3d6b" stroke-width="0.8"/>
<line x1="452.25" y1="216.91" x2="455.45" y2="216.91" stroke="#2b3d6b" stroke-width="0.8"/>
<circle cx="453.85" cy="199.16" r="1.15" fill="#2b3d6b"/>
<circle cx="453.85" cy="209.3" r="1.15" fill="#2b3d6b"/>
<circle cx="453.85" cy="216.91" r="1.15" fill="#2b3d6b"/>
<rect x="459.8" y="174.31" width="4.5" height="51.89" fill="#fff" stroke="#e8a036" stroke-width="1"/>
<line x1="462.05" y1="156.91" x2="462.05" y2="189.02" stroke="#e8a036" stroke-width="0.8"/>
<line x1="460.45" y1="156.91" x2="463.65" y2="156.91" stroke="#e8a036" stroke-width="0.8"/>
<line x1="460.45" y1="189.02" x2="463.65" y2="189.02" stroke="#e8a036" stroke-width="0.8"/>
<rect x="461.05" y="159.29" width="2" height="2" fill="#e8a036"/>
<rect x="461.05" y="165.2" width="2" height="2" fill="#e8a036"/>
<rect x="461.05" y="189.71" width="2" height="2" fill="#e8a036"/>
<line x1="453.5" y1="153.6" x2="462.5" y2="153.6" stroke="#222" stroke-width="0.85"/>
<line x1="453.5" y1="151.4" x2="453.5" y2="155.8" stroke="#222" stroke-width="0.85"/>
<line x1="462.5" y1="151.4" x2="462.5" y2="155.8" stroke="#222" stroke-width="0.85"/>
<text x="458" y="154.2" font-size="8.2" text-anchor="middle" stroke="#111" stroke-width="0.1" letter-spacing="0.3">*</text>
<circle cx="468.4" cy="147.4" r="1.2" fill="#2b3d6b"/>
<rect x="467.3" y="157.8" width="2.2" height="2.2" fill="#e8a036"/>
<text x="473.1" y="149.9" font-size="7" stroke="#111" stroke-width="0.1">anti-IgG</text>
<text x="473.1" y="161.4" font-size="7" stroke="#111" stroke-width="0.1">anti-HDAC1</text>
<text x="352" y="232.4" font-size="7.2" text-anchor="end" transform="rotate(-45 352 232.4)" stroke="#111" stroke-width="0.1">site 1</text>
<text x="373.6" y="232.4" font-size="7.2" text-anchor="end" transform="rotate(-45 373.6 232.4)" stroke="#111" stroke-width="0.1">site 2</text>
<text x="395.2" y="232.4" font-size="7.2" text-anchor="end" transform="rotate(-45 395.2 232.4)" stroke="#111" stroke-width="0.1">site 3</text>
<text x="416.8" y="232.4" font-size="7.2" text-anchor="end" transform="rotate(-45 416.8 232.4)" stroke="#111" stroke-width="0.1">site 4</text>
<text x="438.6" y="232.4" font-size="7.2" text-anchor="end" transform="rotate(-45 438.6 232.4)" stroke="#111" stroke-width="0.1">site 5</text>
<text x="460" y="232.4" font-size="7.2" text-anchor="end" transform="rotate(-45 460 232.4)" stroke="#111" stroke-width="0.1">site 6</text>
<text x="1.8" y="271.9" font-size="12" font-weight="bold" fill="#1e1a1b" stroke="#1e1a1b" stroke-width="0.1">H</text>
<text x="57.9" y="276" font-size="6.9" text-anchor="middle" stroke="#111" stroke-width="0.1">HEK-293T</text>
<line x1="25.3" y1="276.4" x2="25.3" y2="363.2" stroke="#2a2a2a" stroke-width="0.95"/>
<line x1="23.1" y1="276.4" x2="25.3" y2="276.4" stroke="#2a2a2a" stroke-width="0.95"/>
<text x="23" y="278.64" font-size="6.8" text-anchor="end" stroke="#111" stroke-width="0.1">0.3</text>
<line x1="23.1" y1="305.33" x2="25.3" y2="305.33" stroke="#2a2a2a" stroke-width="0.95"/>
<text x="23" y="307.58" font-size="6.8" text-anchor="end" stroke="#111" stroke-width="0.1">0.2</text>
<line x1="23.1" y1="334.27" x2="25.3" y2="334.27" stroke="#2a2a2a" stroke-width="0.95"/>
<text x="23" y="336.51" font-size="6.8" text-anchor="end" stroke="#111" stroke-width="0.1">0.1</text>
<line x1="23.1" y1="363.2" x2="25.3" y2="363.2" stroke="#2a2a2a" stroke-width="0.95"/>
<text x="23" y="365.44" font-size="6.8" text-anchor="end" stroke="#111" stroke-width="0.1">0.0</text>
<line x1="25.3" y1="363.2" x2="110.5" y2="363.2" stroke="#2a2a2a" stroke-width="0.95"/>
<line x1="34.4" y1="363.2" x2="34.4" y2="366.3" stroke="#2a2a2a" stroke-width="0.95"/>
<line x1="50.7" y1="363.2" x2="50.7" y2="366.3" stroke="#2a2a2a" stroke-width="0.95"/>
<line x1="68" y1="363.2" x2="68" y2="366.3" stroke="#2a2a2a" stroke-width="0.95"/>
<line x1="84.8" y1="363.2" x2="84.8" y2="366.3" stroke="#2a2a2a" stroke-width="0.95"/>
<line x1="101.6" y1="363.2" x2="101.6" y2="366.3" stroke="#2a2a2a" stroke-width="0.95"/>
<text x="12.68" y="322.6" font-size="7.6" text-anchor="middle" transform="rotate(-90 12.68 322.6)" stroke="#111" stroke-width="0.1">Luciferase activity</text>
<rect x="29.8" y="334.77" width="9.2" height="28.43" fill="#fff" stroke="#e8a036" stroke-width="1"/>
<line x1="34.4" y1="326.74" x2="34.4" y2="338.9" stroke="#e8a036" stroke-width="0.8"/>
<line x1="31.54" y1="326.74" x2="37.26" y2="326.74" stroke="#e8a036" stroke-width="0.8"/>
<line x1="31.54" y1="338.9" x2="37.26" y2="338.9" stroke="#e8a036" stroke-width="0.8"/>
<path d="M34.4 326.92L32.97 329.52L35.83 329.52Z" fill="#e8a036"/>
<path d="M33.4 334.15L31.97 336.75L34.83 336.75Z" fill="#e8a036"/>
<path d="M34.4 336.18L32.97 338.78L35.83 338.78Z" fill="#e8a036"/>
<rect x="46" y="331.87" width="9.4" height="31.33" fill="#fff" stroke="#4a8bc9" stroke-width="1"/>
<line x1="50.7" y1="319.8" x2="50.7" y2="340.05" stroke="#4a8bc9" stroke-width="0.8"/>
<line x1="47.79" y1="319.8" x2="53.61" y2="319.8" stroke="#4a8bc9" stroke-width="0.8"/>
<line x1="47.79" y1="340.05" x2="53.61" y2="340.05" stroke="#4a8bc9" stroke-width="0.8"/>
<path d="M50.7 318.82L49.27 321.42L52.13 321.42Z" fill="#4a8bc9"/>
<path d="M49.7 334.44L48.27 337.04L51.13 337.04Z" fill="#4a8bc9"/>
<path d="M51.7 334.44L50.27 337.04L53.13 337.04Z" fill="#4a8bc9"/>
<rect x="63.2" y="328.98" width="9.6" height="34.22" fill="#fff" stroke="#f0c47f" stroke-width="1"/>
<line x1="68" y1="315.75" x2="68" y2="338.9" stroke="#f0c47f" stroke-width="0.8"/>
<line x1="65.03" y1="315.75" x2="70.97" y2="315.75" stroke="#f0c47f" stroke-width="0.8"/>
<line x1="65.03" y1="338.9" x2="70.97" y2="338.9" stroke="#f0c47f" stroke-width="0.8"/>
<path d="M68 315.35L66.57 317.95L69.43 317.95Z" fill="#f0c47f"/>
<path d="M67 332.71L65.57 335.31L68.43 335.31Z" fill="#f0c47f"/>
<path d="M69 332.71L67.57 335.31L70.43 335.31Z" fill="#f0c47f"/>
<rect x="79.9" y="300.05" width="9.8" height="63.15" fill="#fff" stroke="#ee8a8f" stroke-width="1"/>
<line x1="84.8" y1="287.11" x2="84.8" y2="309.67" stroke="#ee8a8f" stroke-width="0.8"/>
<line x1="81.78" y1="287.11" x2="87.82" y2="287.11" stroke="#ee8a8f" stroke-width="0.8"/>
<line x1="81.78" y1="309.67" x2="87.82" y2="309.67" stroke="#ee8a8f" stroke-width="0.8"/>
<path d="M84.8 286.99L83.37 289.59L86.23 289.59Z" fill="#ee8a8f"/>
<path d="M83.8 300.88L82.37 303.48L85.23 303.48Z" fill="#ee8a8f"/>
<path d="M85.8 299.43L84.37 302.03L87.23 302.03Z" fill="#ee8a8f"/>
<rect x="97" y="350.68" width="9.2" height="12.52" fill="#fff" stroke="#4561bc" stroke-width="1"/>
<line x1="101.6" y1="340.63" x2="101.6" y2="358.28" stroke="#4561bc" stroke-width="0.8"/>
<line x1="98.74" y1="340.63" x2="104.46" y2="340.63" stroke="#4561bc" stroke-width="0.8"/>
<line x1="98.74" y1="358.28" x2="104.46" y2="358.28" stroke="#4561bc" stroke-width="0.8"/>
<path d="M101.6 339.94L100.17 342.54L103.03 342.54Z" fill="#4561bc"/>
<path d="M100.6 352.96L99.17 355.56L102.03 355.56Z" fill="#4561bc"/>
<path d="M102.6 352.09L101.17 354.69L104.03 354.69Z" fill="#4561bc"/>
<line x1="85.2" y1="282.5" x2="99.2" y2="282.5" stroke="#222" stroke-width="0.85"/>
<line x1="85.2" y1="280.3" x2="85.2" y2="284.7" stroke="#222" stroke-width="0.85"/>
<line x1="99.2" y1="280.3" x2="99.2" y2="284.7" stroke="#222" stroke-width="0.85"/>
<text x="92.2" y="283.1" font-size="8.2" text-anchor="middle" stroke="#111" stroke-width="0.1" letter-spacing="0.3">***</text>
<text x="36" y="369.6" font-size="6.8" text-anchor="end" transform="rotate(-45 36 369.6)" stroke="#111" stroke-width="0.1">P1</text>
<text x="52.3" y="369.6" font-size="6.8" text-anchor="end" transform="rotate(-45 52.3 369.6)" stroke="#111" stroke-width="0.1">P2</text>
<text x="69.6" y="369.6" font-size="6.8" text-anchor="end" transform="rotate(-45 69.6 369.6)" stroke="#111" stroke-width="0.1">P3</text>
<text x="86.4" y="369.6" font-size="6.8" text-anchor="end" transform="rotate(-45 86.4 369.6)" stroke="#111" stroke-width="0.1">P4</text>
<text x="103.2" y="369.6" font-size="6.8" text-anchor="end" transform="rotate(-45 103.2 369.6)" stroke="#111" stroke-width="0.1">PGL3</text>
<text x="131.6" y="270.8" font-size="12" font-weight="bold" stroke="#111" stroke-width="0.1">I</text>
<text x="182.6" y="276" font-size="7" text-anchor="middle" stroke="#111" stroke-width="0.1">MDA-MB-468</text>
<line x1="148.6" y1="280.3" x2="148.6" y2="363.3" stroke="#2a2a2a" stroke-width="0.95"/>
<line x1="146.4" y1="280.3" x2="148.6" y2="280.3" stroke="#2a2a2a" stroke-width="0.95"/>
<text x="146.3" y="282.54" font-size="6.8" text-anchor="end" stroke="#111" stroke-width="0.1">2.5</text>
<line x1="146.4" y1="296.9" x2="148.6" y2="296.9" stroke="#2a2a2a" stroke-width="0.95"/>
<text x="146.3" y="299.14" font-size="6.8" text-anchor="end" stroke="#111" stroke-width="0.1">2.0</text>
<line x1="146.4" y1="313.5" x2="148.6" y2="313.5" stroke="#2a2a2a" stroke-width="0.95"/>
<text x="146.3" y="315.74" font-size="6.8" text-anchor="end" stroke="#111" stroke-width="0.1">1.5</text>
<line x1="146.4" y1="330.1" x2="148.6" y2="330.1" stroke="#2a2a2a" stroke-width="0.95"/>
<text x="146.3" y="332.34" font-size="6.8" text-anchor="end" stroke="#111" stroke-width="0.1">1.0</text>
<line x1="146.4" y1="346.7" x2="148.6" y2="346.7" stroke="#2a2a2a" stroke-width="0.95"/>
<text x="146.3" y="348.94" font-size="6.8" text-anchor="end" stroke="#111" stroke-width="0.1">0.5</text>
<line x1="146.4" y1="363.3" x2="148.6" y2="363.3" stroke="#2a2a2a" stroke-width="0.95"/>
<text x="146.3" y="365.54" font-size="6.8" text-anchor="end" stroke="#111" stroke-width="0.1">0.0</text>
<line x1="148.6" y1="363.3" x2="230.5" y2="363.3" stroke="#2a2a2a" stroke-width="0.95"/>
<line x1="156.4" y1="363.3" x2="156.4" y2="366.4" stroke="#2a2a2a" stroke-width="0.95"/>
<line x1="172.5" y1="363.3" x2="172.5" y2="366.4" stroke="#2a2a2a" stroke-width="0.95"/>
<line x1="188.9" y1="363.3" x2="188.9" y2="366.4" stroke="#2a2a2a" stroke-width="0.95"/>
<line x1="205.1" y1="363.3" x2="205.1" y2="366.4" stroke="#2a2a2a" stroke-width="0.95"/>
<line x1="221.1" y1="363.3" x2="221.1" y2="366.4" stroke="#2a2a2a" stroke-width="0.95"/>
<text x="132.82" y="316.4" font-size="8" text-anchor="middle" transform="rotate(-90 132.82 316.4)" stroke="#111" stroke-width="0.1">Luciferase activity</text>
<rect x="151.6" y="339.9" width="9.6" height="23.4" fill="#fff" stroke="#e8a036" stroke-width="1"/>
<line x1="156.4" y1="332.76" x2="156.4" y2="345.04" stroke="#e8a036" stroke-width="0.8"/>
<line x1="153.43" y1="332.76" x2="159.37" y2="332.76" stroke="#e8a036" stroke-width="0.8"/>
<line x1="153.43" y1="345.04" x2="159.37" y2="345.04" stroke="#e8a036" stroke-width="0.8"/>
<circle cx="156.4" cy="333.42" r="1.3" fill="#e8a036"/>
<circle cx="154.9" cy="343.38" r="1.3" fill="#e8a036"/>
<circle cx="157.9" cy="341.72" r="1.3" fill="#e8a036"/>
<rect x="167.9" y="316.32" width="9.1" height="46.98" fill="#fff" stroke="#4a8bc9" stroke-width="1"/>
<line x1="172.45" y1="305.2" x2="172.45" y2="327.44" stroke="#4a8bc9" stroke-width="0.8"/>
<line x1="169.62" y1="305.2" x2="175.28" y2="305.2" stroke="#4a8bc9" stroke-width="0.8"/>
<line x1="169.62" y1="327.44" x2="175.28" y2="327.44" stroke="#4a8bc9" stroke-width="0.8"/>
<circle cx="172.45" cy="307.52" r="1.45" fill="#4a8bc9"/>
<circle cx="172.45" cy="311.51" r="1.45" fill="#4a8bc9"/>
<circle cx="172.45" cy="327.44" r="1.45" fill="#4a8bc9"/>
<rect x="184.3" y="315.66" width="9.2" height="47.64" fill="#fff" stroke="#f0c47f" stroke-width="1"/>
<line x1="188.9" y1="297.23" x2="188.9" y2="333.42" stroke="#f0c47f" stroke-width="0.8"/>
<line x1="186.04" y1="297.23" x2="191.76" y2="297.23" stroke="#f0c47f" stroke-width="0.8"/>
<line x1="186.04" y1="333.42" x2="191.76" y2="333.42" stroke="#f0c47f" stroke-width="0.8"/>
<path d="M188.9 300.2L187.36 303L190.44 303Z" fill="#f0c47f"/>
<path d="M188.9 307.5L187.36 310.3L190.44 310.3Z" fill="#f0c47f"/>
<path d="M188.9 334.06L187.36 336.86L190.44 336.86Z" fill="#f0c47f"/>
<rect x="200.5" y="291.76" width="9.2" height="71.54" fill="#fff" stroke="#e4474c" stroke-width="1"/>
<line x1="205.1" y1="289.6" x2="205.1" y2="292.92" stroke="#e4474c" stroke-width="0.8"/>
<line x1="202.24" y1="289.6" x2="207.96" y2="289.6" stroke="#e4474c" stroke-width="0.8"/>
<line x1="202.24" y1="292.92" x2="207.96" y2="292.92" stroke="#e4474c" stroke-width="0.8"/>
<path d="M203.6 288.7L202.17 291.3L205.03 291.3Z" fill="#e4474c"/>
<path d="M206.6 289.36L205.17 291.96L208.03 291.96Z" fill="#e4474c"/>
<path d="M205.1 290.36L203.67 292.96L206.53 292.96Z" fill="#e4474c"/>
<rect x="216.3" y="339.56" width="9.6" height="23.74" fill="#fff" stroke="#4561bc" stroke-width="1"/>
<line x1="221.1" y1="337.4" x2="221.1" y2="340.39" stroke="#4561bc" stroke-width="0.8"/>
<line x1="218.13" y1="337.4" x2="224.07" y2="337.4" stroke="#4561bc" stroke-width="0.8"/>
<line x1="218.13" y1="340.39" x2="224.07" y2="340.39" stroke="#4561bc" stroke-width="0.8"/>
<path d="M219.6 336.84L218.17 339.44L221.03 339.44Z" fill="#4561bc"/>
<path d="M222.6 336.51L221.17 339.11L224.03 339.11Z" fill="#4561bc"/>
<path d="M221.1 337.84L219.67 340.44L222.53 340.44Z" fill="#4561bc"/>
<line x1="203.9" y1="284.8" x2="218.5" y2="284.8" stroke="#777" stroke-width="1.2"/>
<line x1="203.9" y1="282.6" x2="203.9" y2="287" stroke="#777" stroke-width="1.2"/>
<line x1="218.5" y1="282.6" x2="218.5" y2="287" stroke="#777" stroke-width="1.2"/>
<text x="211.2" y="284.2" font-size="6.6" text-anchor="middle" stroke="#111" stroke-width="0.1" letter-spacing="0.1">***</text>
<text x="160" y="371" font-size="7.6" text-anchor="end" transform="rotate(-45 160 371)" stroke="#111" stroke-width="0.1">P1</text>
<text x="176.1" y="371" font-size="7.6" text-anchor="end" transform="rotate(-45 176.1 371)" stroke="#111" stroke-width="0.1">P2</text>
<text x="192.5" y="371" font-size="7.6" text-anchor="end" transform="rotate(-45 192.5 371)" stroke="#111" stroke-width="0.1">P3</text>
<text x="208.7" y="371" font-size="7.6" text-anchor="end" transform="rotate(-45 208.7 371)" stroke="#111" stroke-width="0.1">P4</text>
<text x="224.7" y="371" font-size="7.6" text-anchor="end" transform="rotate(-45 224.7 371)" stroke="#111" stroke-width="0.1">PGL3</text>
<text x="267.4" y="267.9" font-size="12" font-weight="bold" fill="#1e1a1b" stroke="#1e1a1b" stroke-width="0.1">J</text>
<text x="315.2" y="271.4" font-size="6.8" text-anchor="middle" stroke="#111" stroke-width="0.1">HEK-293T</text>
<line x1="260.5" y1="274" x2="260.5" y2="354.9" stroke="#2a2a2a" stroke-width="0.95"/>
<line x1="258.3" y1="274" x2="260.5" y2="274" stroke="#2a2a2a" stroke-width="0.95"/>
<text x="258.2" y="276.24" font-size="6.8" text-anchor="end" stroke="#111" stroke-width="0.1">1.0</text>
<line x1="258.3" y1="290.18" x2="260.5" y2="290.18" stroke="#2a2a2a" stroke-width="0.95"/>
<text x="258.2" y="292.42" font-size="6.8" text-anchor="end" stroke="#111" stroke-width="0.1">0.8</text>
<line x1="258.3" y1="306.36" x2="260.5" y2="306.36" stroke="#2a2a2a" stroke-width="0.95"/>
<text x="258.2" y="308.6" font-size="6.8" text-anchor="end" stroke="#111" stroke-width="0.1">0.6</text>
<line x1="258.3" y1="322.54" x2="260.5" y2="322.54" stroke="#2a2a2a" stroke-width="0.95"/>
<text x="258.2" y="324.78" font-size="6.8" text-anchor="end" stroke="#111" stroke-width="0.1">0.4</text>
<line x1="258.3" y1="338.72" x2="260.5" y2="338.72" stroke="#2a2a2a" stroke-width="0.95"/>
<text x="258.2" y="340.96" font-size="6.8" text-anchor="end" stroke="#111" stroke-width="0.1">0.2</text>
<line x1="258.3" y1="354.9" x2="260.5" y2="354.9" stroke="#2a2a2a" stroke-width="0.95"/>
<text x="258.2" y="357.14" font-size="6.8" text-anchor="end" stroke="#111" stroke-width="0.1">0.0</text>
<line x1="260.5" y1="354.9" x2="378.4" y2="354.9" stroke="#2a2a2a" stroke-width="0.95"/>
<line x1="269.5" y1="354.9" x2="269.5" y2="358.1" stroke="#2a2a2a" stroke-width="0.95"/>
<line x1="289.4" y1="354.9" x2="289.4" y2="358.1" stroke="#2a2a2a" stroke-width="0.95"/>
<line x1="309.1" y1="354.9" x2="309.1" y2="358.1" stroke="#2a2a2a" stroke-width="0.95"/>
<line x1="328.6" y1="354.9" x2="328.6" y2="358.1" stroke="#2a2a2a" stroke-width="0.95"/>
<line x1="348.3" y1="354.9" x2="348.3" y2="358.1" stroke="#2a2a2a" stroke-width="0.95"/>
<line x1="367.9" y1="354.9" x2="367.9" y2="358.1" stroke="#2a2a2a" stroke-width="0.95"/>
<text x="244.02" y="315.7" font-size="7.4" text-anchor="middle" transform="rotate(-90 244.02 315.7)" stroke="#111" stroke-width="0.1">Relative luciferase activity</text>
<rect x="263.6" y="347.31" width="11.8" height="7.59" fill="#fff" stroke="#e8a036" stroke-width="1"/>
<line x1="269.5" y1="346.65" x2="269.5" y2="346.97" stroke="#e8a036" stroke-width="0.8"/>
<line x1="265.92" y1="346.65" x2="273.08" y2="346.65" stroke="#e8a036" stroke-width="0.8"/>
<line x1="265.92" y1="346.97" x2="273.08" y2="346.97" stroke="#e8a036" stroke-width="0.8"/>
<circle cx="267.5" cy="346.81" r="0.6" fill="#e8a036"/>
<circle cx="269.5" cy="346.81" r="0.6" fill="#e8a036"/>
<circle cx="271.5" cy="346.81" r="0.6" fill="#e8a036"/>
<rect x="283.5" y="348.52" width="11.8" height="6.38" fill="#fff" stroke="#2b3d6b" stroke-width="1"/>
<line x1="289.4" y1="346.41" x2="289.4" y2="349.24" stroke="#2b3d6b" stroke-width="0.8"/>
<line x1="285.82" y1="346.41" x2="292.98" y2="346.41" stroke="#2b3d6b" stroke-width="0.8"/>
<line x1="285.82" y1="349.24" x2="292.98" y2="349.24" stroke="#2b3d6b" stroke-width="0.8"/>
<path d="M288.4 345.25L286.97 347.85L289.83 347.85Z" fill="#2b3d6b"/>
<path d="M290.4 346.87L288.97 349.47L291.83 349.47Z" fill="#2b3d6b"/>
<path d="M289.4 347.27L287.97 349.87L290.83 349.87Z" fill="#2b3d6b"/>
<rect x="303.2" y="308.48" width="11.8" height="46.42" fill="#fff" stroke="#4a8bc9" stroke-width="1"/>
<line x1="309.1" y1="286.94" x2="309.1" y2="329.01" stroke="#4a8bc9" stroke-width="0.8"/>
<line x1="305.52" y1="286.94" x2="312.68" y2="286.94" stroke="#4a8bc9" stroke-width="0.8"/>
<line x1="305.52" y1="329.01" x2="312.68" y2="329.01" stroke="#4a8bc9" stroke-width="0.8"/>
<circle cx="309.1" cy="290.18" r="0.6" fill="#4a8bc9"/>
<circle cx="309.1" cy="323.35" r="0.6" fill="#4a8bc9"/>
<circle cx="309.1" cy="328.2" r="0.6" fill="#4a8bc9"/>
<rect x="322.7" y="339.22" width="11.8" height="15.68" fill="#fff" stroke="#e8a036" stroke-width="1"/>
<line x1="328.6" y1="331.44" x2="328.6" y2="346" stroke="#e8a036" stroke-width="0.8"/>
<line x1="325.02" y1="331.44" x2="332.18" y2="331.44" stroke="#e8a036" stroke-width="0.8"/>
<line x1="325.02" y1="346" x2="332.18" y2="346" stroke="#e8a036" stroke-width="0.8"/>
<path d="M328.6 331.53L327.94 332.73L329.26 332.73Z" fill="#e8a036"/>
<path d="M327.6 342.85L326.94 344.05L328.26 344.05Z" fill="#e8a036"/>
<path d="M329.6 342.85L328.94 344.05L330.26 344.05Z" fill="#e8a036"/>
<rect x="342.4" y="343.26" width="11.8" height="11.63" fill="#fff" stroke="#e4474c" stroke-width="1"/>
<line x1="348.3" y1="339.12" x2="348.3" y2="346.81" stroke="#e4474c" stroke-width="0.8"/>
<line x1="344.72" y1="339.12" x2="351.88" y2="339.12" stroke="#e4474c" stroke-width="0.8"/>
<line x1="344.72" y1="346.81" x2="351.88" y2="346.81" stroke="#e4474c" stroke-width="0.8"/>
<path d="M348.3 340.43L347.64 341.63L348.96 341.63Z" fill="#e4474c"/>
<path d="M347.3 343.66L346.64 344.86L347.96 344.86Z" fill="#e4474c"/>
<path d="M349.3 343.66L348.64 344.86L349.96 344.86Z" fill="#e4474c"/>
<rect x="362" y="340.84" width="11.8" height="14.06" fill="#fff" stroke="#4561bc" stroke-width="1"/>
<line x1="367.9" y1="339.53" x2="367.9" y2="341.15" stroke="#4561bc" stroke-width="0.8"/>
<line x1="364.32" y1="339.53" x2="371.48" y2="339.53" stroke="#4561bc" stroke-width="0.8"/>
<line x1="364.32" y1="341.15" x2="371.48" y2="341.15" stroke="#4561bc" stroke-width="0.8"/>
<rect x="365.3" y="339.74" width="1.2" height="1.2" fill="#4561bc"/>
<rect x="367.3" y="339.74" width="1.2" height="1.2" fill="#4561bc"/>
<rect x="369.3" y="339.74" width="1.2" height="1.2" fill="#4561bc"/>
<line x1="309" y1="282.4" x2="324.1" y2="282.4" stroke="#222" stroke-width="0.85"/>
<line x1="309" y1="280.2" x2="309" y2="284.6" stroke="#222" stroke-width="0.85"/>
<line x1="324.1" y1="280.2" x2="324.1" y2="284.6" stroke="#222" stroke-width="0.85"/>
<text x="316.55" y="283.3" font-size="8.2" text-anchor="middle" stroke="#111" stroke-width="0.1" letter-spacing="0.6">**</text>
<text x="272.5" y="362.8" font-size="6" text-anchor="end" transform="rotate(-45 272.5 362.8)" stroke="#111" stroke-width="0.1">P4+pcDNA3.1-ELK1</text>
<text x="292.4" y="362.8" font-size="6" text-anchor="end" transform="rotate(-45 292.4 362.8)" stroke="#111" stroke-width="0.1">P4+pcDNA3.1-YY1</text>
<text x="312.1" y="362.8" font-size="6" text-anchor="end" transform="rotate(-45 312.1 362.8)" stroke="#111" stroke-width="0.1">P4+pcDNA3.1-CEBPβ</text>
<text x="331.6" y="362.8" font-size="6" text-anchor="end" transform="rotate(-45 331.6 362.8)" stroke="#111" stroke-width="0.1">P4+pcDNA3.1</text>
<text x="351.3" y="362.8" font-size="6" text-anchor="end" transform="rotate(-45 351.3 362.8)" stroke="#111" stroke-width="0.1">P4+pENTER-E2F1</text>
<text x="370.9" y="362.8" font-size="6" text-anchor="end" transform="rotate(-45 370.9 362.8)" stroke="#111" stroke-width="0.1">P4+pENTER</text>
<text x="390" y="265.6" font-size="12" font-weight="bold" fill="#1e1a1b" stroke="#1e1a1b" stroke-width="0.1">K</text>
<text x="447.9" y="265.1" font-size="7" text-anchor="middle" stroke="#111" stroke-width="0.1">MDA-MB-231</text>
<line x1="399.9" y1="278.5" x2="399.9" y2="357.5" stroke="#2a2a2a" stroke-width="0.95"/>
<line x1="397.7" y1="278.5" x2="399.9" y2="278.5" stroke="#2a2a2a" stroke-width="0.95"/>
<text x="397.6" y="280.74" font-size="6.8" text-anchor="end" stroke="#111" stroke-width="0.1">2.5</text>
<line x1="397.7" y1="294.3" x2="399.9" y2="294.3" stroke="#2a2a2a" stroke-width="0.95"/>
<text x="397.6" y="296.54" font-size="6.8" text-anchor="end" stroke="#111" stroke-width="0.1">2.0</text>
<line x1="397.7" y1="310.1" x2="399.9" y2="310.1" stroke="#2a2a2a" stroke-width="0.95"/>
<text x="397.6" y="312.34" font-size="6.8" text-anchor="end" stroke="#111" stroke-width="0.1">1.5</text>
<line x1="397.7" y1="325.9" x2="399.9" y2="325.9" stroke="#2a2a2a" stroke-width="0.95"/>
<text x="397.6" y="328.14" font-size="6.8" text-anchor="end" stroke="#111" stroke-width="0.1">1.0</text>
<line x1="397.7" y1="341.7" x2="399.9" y2="341.7" stroke="#2a2a2a" stroke-width="0.95"/>
<text x="397.6" y="343.94" font-size="6.8" text-anchor="end" stroke="#111" stroke-width="0.1">0.5</text>
<line x1="397.7" y1="357.5" x2="399.9" y2="357.5" stroke="#2a2a2a" stroke-width="0.95"/>
<text x="397.6" y="359.74" font-size="6.8" text-anchor="end" stroke="#111" stroke-width="0.1">0.0</text>
<line x1="399.9" y1="357.5" x2="510" y2="357.5" stroke="#2a2a2a" stroke-width="0.95"/>
<line x1="408.1" y1="357.5" x2="408.1" y2="360.4" stroke="#2a2a2a" stroke-width="0.95"/>
<line x1="426.3" y1="357.5" x2="426.3" y2="360.4" stroke="#2a2a2a" stroke-width="0.95"/>
<line x1="444.6" y1="357.5" x2="444.6" y2="360.4" stroke="#2a2a2a" stroke-width="0.95"/>
<line x1="462.5" y1="357.5" x2="462.5" y2="360.4" stroke="#2a2a2a" stroke-width="0.95"/>
<line x1="480.3" y1="357.5" x2="480.3" y2="360.4" stroke="#2a2a2a" stroke-width="0.95"/>
<line x1="498.2" y1="357.5" x2="498.2" y2="360.4" stroke="#2a2a2a" stroke-width="0.95"/>
<text x="387.1" y="317" font-size="6.8" text-anchor="middle" transform="rotate(-90 387.1 317)" stroke="#111" stroke-width="0.1">Relative expression of LINC00882</text>
<rect x="402.7" y="337.78" width="10.8" height="19.72" fill="#fff" stroke="#2b3d6b" stroke-width="1"/>
<line x1="408.1" y1="327.16" x2="408.1" y2="347.39" stroke="#2b3d6b" stroke-width="0.8"/>
<line x1="404.8" y1="327.16" x2="411.4" y2="327.16" stroke="#2b3d6b" stroke-width="0.8"/>
<line x1="404.8" y1="347.39" x2="411.4" y2="347.39" stroke="#2b3d6b" stroke-width="0.8"/>
<path d="M408.1 327.5L406.67 330.1L409.53 330.1Z" fill="#2b3d6b"/>
<path d="M408.1 333.82L406.67 336.42L409.53 336.42Z" fill="#2b3d6b"/>
<path d="M408.1 346.46L406.67 349.06L409.53 349.06Z" fill="#2b3d6b"/>
<rect x="420.9" y="331.77" width="10.8" height="25.73" fill="#fff" stroke="#e8a036" stroke-width="1"/>
<line x1="426.3" y1="322.74" x2="426.3" y2="339.49" stroke="#e8a036" stroke-width="0.8"/>
<line x1="423" y1="322.74" x2="429.6" y2="322.74" stroke="#e8a036" stroke-width="0.8"/>
<line x1="423" y1="339.49" x2="429.6" y2="339.49" stroke="#e8a036" stroke-width="0.8"/>
<path d="M426.3 325.42L425.86 326.22L426.74 326.22Z" fill="#e8a036"/>
<path d="M426.3 331.74L425.86 332.54L426.74 332.54Z" fill="#e8a036"/>
<path d="M426.3 338.06L425.86 338.86L426.74 338.86Z" fill="#e8a036"/>
<rect x="439.2" y="306.49" width="10.8" height="51.01" fill="#fff" stroke="#4a8bc9" stroke-width="1"/>
<line x1="444.6" y1="300.3" x2="444.6" y2="310.1" stroke="#4a8bc9" stroke-width="0.8"/>
<line x1="441.3" y1="300.3" x2="447.9" y2="300.3" stroke="#4a8bc9" stroke-width="0.8"/>
<line x1="441.3" y1="310.1" x2="447.9" y2="310.1" stroke="#4a8bc9" stroke-width="0.8"/>
<path d="M444.6 299.69L443.17 302.29L446.03 302.29Z" fill="#4a8bc9"/>
<path d="M443.6 305.38L442.17 307.98L445.03 307.98Z" fill="#4a8bc9"/>
<path d="M445.6 307.91L444.17 310.51L447.03 310.51Z" fill="#4a8bc9"/>
<rect x="457.1" y="325.14" width="10.8" height="32.36" fill="#fff" stroke="#ee8a8f" stroke-width="1"/>
<line x1="462.5" y1="322.74" x2="462.5" y2="326.53" stroke="#ee8a8f" stroke-width="0.8"/>
<line x1="459.2" y1="322.74" x2="465.8" y2="322.74" stroke="#ee8a8f" stroke-width="0.8"/>
<line x1="459.2" y1="326.53" x2="465.8" y2="326.53" stroke="#ee8a8f" stroke-width="0.8"/>
<path d="M461.5 322.44L460.07 325.04L462.93 325.04Z" fill="#ee8a8f"/>
<path d="M463.5 323.71L462.07 326.31L464.93 326.31Z" fill="#ee8a8f"/>
<path d="M462.5 324.34L461.07 326.94L463.93 326.94Z" fill="#ee8a8f"/>
<rect x="474.9" y="312.81" width="10.8" height="44.69" fill="#fff" stroke="#4561bc" stroke-width="1"/>
<line x1="480.3" y1="290.82" x2="480.3" y2="333.8" stroke="#4561bc" stroke-width="0.8"/>
<line x1="477" y1="290.82" x2="483.6" y2="290.82" stroke="#4561bc" stroke-width="0.8"/>
<line x1="477" y1="333.8" x2="483.6" y2="333.8" stroke="#4561bc" stroke-width="0.8"/>
<circle cx="480.3" cy="287.98" r="1.3" fill="#4561bc"/>
<circle cx="480.3" cy="322.11" r="1.3" fill="#4561bc"/>
<circle cx="480.3" cy="326.53" r="1.3" fill="#4561bc"/>
<rect x="492.8" y="323.24" width="10.8" height="34.26" fill="#fff" stroke="#52c19c" stroke-width="1"/>
<line x1="498.2" y1="318.32" x2="498.2" y2="326.53" stroke="#52c19c" stroke-width="0.8"/>
<line x1="494.9" y1="318.32" x2="501.5" y2="318.32" stroke="#52c19c" stroke-width="0.8"/>
<line x1="494.9" y1="326.53" x2="501.5" y2="326.53" stroke="#52c19c" stroke-width="0.8"/>
<path d="M498.2 318.02L496.77 320.62L499.63 320.62Z" fill="#52c19c"/>
<path d="M497.2 321.81L495.77 324.41L498.63 324.41Z" fill="#52c19c"/>
<path d="M499.2 322.76L497.77 325.36L500.63 325.36Z" fill="#52c19c"/>
<line x1="444.2" y1="295" x2="461.6" y2="295" stroke="#222" stroke-width="0.85"/>
<line x1="444.2" y1="292.8" x2="444.2" y2="297.2" stroke="#222" stroke-width="0.85"/>
<line x1="461.6" y1="292.8" x2="461.6" y2="297.2" stroke="#222" stroke-width="0.85"/>
<text x="452.9" y="295.6" font-size="8.2" text-anchor="middle" stroke="#111" stroke-width="0.1" letter-spacing="0.3">*</text>
<text x="410.7" y="362.3" font-size="5.9" text-anchor="end" transform="rotate(-45 410.7 362.3)" stroke="#111" stroke-width="0.1">pcDNA3.1-ELK1</text>
<text x="428.9" y="362.3" font-size="5.9" text-anchor="end" transform="rotate(-45 428.9 362.3)" stroke="#111" stroke-width="0.1">pcDNA3.1-YY1</text>
<text x="447.2" y="362.3" font-size="5.9" text-anchor="end" transform="rotate(-45 447.2 362.3)" stroke="#111" stroke-width="0.1">pcDNA3.1-CEBPβ</text>
<text x="465.1" y="362.3" font-size="5.9" text-anchor="end" transform="rotate(-45 465.1 362.3)" stroke="#111" stroke-width="0.1">pcDNA3.1</text>
<text x="482.9" y="362.3" font-size="5.9" text-anchor="end" transform="rotate(-45 482.9 362.3)" stroke="#111" stroke-width="0.1">pENTERR-E2F1</text>
<text x="500.8" y="362.3" font-size="5.9" text-anchor="end" transform="rotate(-45 500.8 362.3)" stroke="#111" stroke-width="0.1">pENTER</text>
<text x="2.2" y="418.3" font-size="12" font-weight="bold" fill="#1e1a1b" stroke="#1e1a1b" stroke-width="0.1">L</text>
<text x="82.2" y="402.1" font-size="7" text-anchor="middle" stroke="#111" stroke-width="0.1">MDA-MB-468</text>
<line x1="31.6" y1="409.2" x2="31.6" y2="492.4" stroke="#2a2a2a" stroke-width="0.95"/>
<line x1="29.4" y1="409.2" x2="31.6" y2="409.2" stroke="#2a2a2a" stroke-width="0.95"/>
<text x="29.3" y="411.44" font-size="6.8" text-anchor="end" stroke="#111" stroke-width="0.1">4</text>
<line x1="29.4" y1="430" x2="31.6" y2="430" stroke="#2a2a2a" stroke-width="0.95"/>
<text x="29.3" y="432.24" font-size="6.8" text-anchor="end" stroke="#111" stroke-width="0.1">3</text>
<line x1="29.4" y1="450.8" x2="31.6" y2="450.8" stroke="#2a2a2a" stroke-width="0.95"/>
<text x="29.3" y="453.04" font-size="6.8" text-anchor="end" stroke="#111" stroke-width="0.1">2</text>
<line x1="29.4" y1="471.6" x2="31.6" y2="471.6" stroke="#2a2a2a" stroke-width="0.95"/>
<text x="29.3" y="473.84" font-size="6.8" text-anchor="end" stroke="#111" stroke-width="0.1">1</text>
<line x1="29.4" y1="492.4" x2="31.6" y2="492.4" stroke="#2a2a2a" stroke-width="0.95"/>
<text x="29.3" y="494.64" font-size="6.8" text-anchor="end" stroke="#111" stroke-width="0.1">0</text>
<line x1="31.6" y1="492.4" x2="147.5" y2="492.4" stroke="#2a2a2a" stroke-width="0.95"/>
<line x1="40.5" y1="492.4" x2="40.5" y2="495.3" stroke="#2a2a2a" stroke-width="0.95"/>
<line x1="59.7" y1="492.4" x2="59.7" y2="495.3" stroke="#2a2a2a" stroke-width="0.95"/>
<line x1="79.1" y1="492.4" x2="79.1" y2="495.3" stroke="#2a2a2a" stroke-width="0.95"/>
<line x1="98.1" y1="492.4" x2="98.1" y2="495.3" stroke="#2a2a2a" stroke-width="0.95"/>
<line x1="117.3" y1="492.4" x2="117.3" y2="495.3" stroke="#2a2a2a" stroke-width="0.95"/>
<line x1="137.3" y1="492.4" x2="137.3" y2="495.3" stroke="#2a2a2a" stroke-width="0.95"/>
<text x="22.97" y="452" font-size="6.97" text-anchor="middle" transform="rotate(-90 22.97 452)" stroke="#111" stroke-width="0.1">Relative expression of LINC00882</text>
<rect x="34.8" y="460.66" width="11.4" height="31.74" fill="#fff" stroke="#2b3d6b" stroke-width="1"/>
<line x1="40.5" y1="449.14" x2="40.5" y2="471.6" stroke="#2b3d6b" stroke-width="0.8"/>
<line x1="37.03" y1="449.14" x2="43.97" y2="449.14" stroke="#2b3d6b" stroke-width="0.8"/>
<line x1="37.03" y1="471.6" x2="43.97" y2="471.6" stroke="#2b3d6b" stroke-width="0.8"/>
<path d="M40.5 451.32L39.07 453.92L41.93 453.92Z" fill="#2b3d6b"/>
<path d="M40.5 454.44L39.07 457.04L41.93 457.04Z" fill="#2b3d6b"/>
<path d="M40.5 469L39.07 471.6L41.93 471.6Z" fill="#2b3d6b"/>
<rect x="54" y="472.72" width="11.4" height="19.68" fill="#fff" stroke="#e8a036" stroke-width="1"/>
<line x1="59.7" y1="470.35" x2="59.7" y2="473.26" stroke="#e8a036" stroke-width="0.8"/>
<line x1="56.23" y1="470.35" x2="63.17" y2="470.35" stroke="#e8a036" stroke-width="0.8"/>
<line x1="56.23" y1="473.26" x2="63.17" y2="473.26" stroke="#e8a036" stroke-width="0.8"/>
<path d="M58.7 471.42L58.15 472.42L59.25 472.42Z" fill="#e8a036"/>
<path d="M60.7 472.04L60.15 473.04L61.25 473.04Z" fill="#e8a036"/>
<path d="M59.7 472.46L59.15 473.46L60.25 473.46Z" fill="#e8a036"/>
<rect x="73.4" y="443.6" width="11.4" height="48.8" fill="#fff" stroke="#4a8bc9" stroke-width="1"/>
<line x1="79.1" y1="422.72" x2="79.1" y2="463.28" stroke="#4a8bc9" stroke-width="0.8"/>
<line x1="75.63" y1="422.72" x2="82.57" y2="422.72" stroke="#4a8bc9" stroke-width="0.8"/>
<line x1="75.63" y1="463.28" x2="82.57" y2="463.28" stroke="#4a8bc9" stroke-width="0.8"/>
<path d="M79.1 421.2L78.66 422L79.54 422Z" fill="#4a8bc9"/>
<path d="M79.1 444.08L78.66 444.88L79.54 444.88Z" fill="#4a8bc9"/>
<path d="M79.1 460.72L78.66 461.52L79.54 461.52Z" fill="#4a8bc9"/>
<rect x="92.4" y="471.27" width="11.4" height="21.13" fill="#fff" stroke="#e4474c" stroke-width="1"/>
<line x1="98.1" y1="469.1" x2="98.1" y2="472.02" stroke="#e4474c" stroke-width="0.8"/>
<line x1="94.63" y1="469.1" x2="101.57" y2="469.1" stroke="#e4474c" stroke-width="0.8"/>
<line x1="94.63" y1="472.02" x2="101.57" y2="472.02" stroke="#e4474c" stroke-width="0.8"/>
<path d="M97.1 469.34L96.55 470.34L97.65 470.34Z" fill="#e4474c"/>
<path d="M99.1 469.96L98.55 470.96L99.65 470.96Z" fill="#e4474c"/>
<path d="M98.1 471L97.55 472L98.65 472Z" fill="#e4474c"/>
<rect x="111.6" y="474.6" width="11.4" height="17.8" fill="#fff" stroke="#4561bc" stroke-width="1"/>
<line x1="117.3" y1="466.4" x2="117.3" y2="480.96" stroke="#4561bc" stroke-width="0.8"/>
<line x1="113.83" y1="466.4" x2="120.77" y2="466.4" stroke="#4561bc" stroke-width="0.8"/>
<line x1="113.83" y1="480.96" x2="120.77" y2="480.96" stroke="#4561bc" stroke-width="0.8"/>
<path d="M117.3 465.88L115.87 468.48L118.73 468.48Z" fill="#4561bc"/>
<path d="M117.3 472.12L115.87 474.72L118.73 474.72Z" fill="#4561bc"/>
<path d="M117.3 478.36L115.87 480.96L118.73 480.96Z" fill="#4561bc"/>
<rect x="131.6" y="470.02" width="11.4" height="22.38" fill="#fff" stroke="#52c19c" stroke-width="1"/>
<line x1="137.3" y1="467.02" x2="137.3" y2="471.6" stroke="#52c19c" stroke-width="0.8"/>
<line x1="133.83" y1="467.02" x2="140.77" y2="467.02" stroke="#52c19c" stroke-width="0.8"/>
<line x1="133.83" y1="471.6" x2="140.77" y2="471.6" stroke="#52c19c" stroke-width="0.8"/>
<path d="M137.3 465.88L135.87 468.48L138.73 468.48Z" fill="#52c19c"/>
<path d="M137.3 467.96L135.87 470.56L138.73 470.56Z" fill="#52c19c"/>
<path d="M137.3 470.04L135.87 472.64L138.73 472.64Z" fill="#52c19c"/>
<line x1="79.6" y1="415.5" x2="97.4" y2="415.5" stroke="#222" stroke-width="0.85"/>
<line x1="79.6" y1="413.3" x2="79.6" y2="417.7" stroke="#222" stroke-width="0.85"/>
<line x1="97.4" y1="413.3" x2="97.4" y2="417.7" stroke="#222" stroke-width="0.85"/>
<text x="88.5" y="416.1" font-size="8.2" text-anchor="middle" stroke="#111" stroke-width="0.1" letter-spacing="0.3">*</text>
<text x="42.1" y="499.1" font-size="6" text-anchor="end" transform="rotate(-45 42.1 499.1)" stroke="#111" stroke-width="0.1">pcDNA3.1-ELK1</text>
<text x="61.3" y="499.1" font-size="6" text-anchor="end" transform="rotate(-45 61.3 499.1)" stroke="#111" stroke-width="0.1">pc-DNA3.1-YY1</text>
<text x="80.7" y="499.1" font-size="6" text-anchor="end" transform="rotate(-45 80.7 499.1)" stroke="#111" stroke-width="0.1">pcDNA3.1-CEBPβ</text>
<text x="99.7" y="499.1" font-size="6" text-anchor="end" transform="rotate(-45 99.7 499.1)" stroke="#111" stroke-width="0.1">pcDNA3.1</text>
<text x="118.9" y="499.1" font-size="6" text-anchor="end" transform="rotate(-45 118.9 499.1)" stroke="#111" stroke-width="0.1">pENTER-E2F1</text>
<text x="138.9" y="499.1" font-size="6" text-anchor="end" transform="rotate(-45 138.9 499.1)" stroke="#111" stroke-width="0.1">pENTER</text>
<text x="145.5" y="418.5" font-size="12" font-weight="bold" fill="#1e1a1b" stroke="#1e1a1b" stroke-width="0.1">M</text>
<text x="202.5" y="405.7" font-size="7" text-anchor="middle" stroke="#111" stroke-width="0.1">MDA-MB-231 ChIP-PCR</text>
<line x1="181.6" y1="414" x2="181.6" y2="502.5" stroke="#2a2a2a" stroke-width="0.95"/>
<line x1="179.4" y1="414" x2="181.6" y2="414" stroke="#2a2a2a" stroke-width="0.95"/>
<text x="179.3" y="416.24" font-size="6.8" text-anchor="end" stroke="#111" stroke-width="0.1">4</text>
<line x1="179.4" y1="436.12" x2="181.6" y2="436.12" stroke="#2a2a2a" stroke-width="0.95"/>
<text x="179.3" y="438.37" font-size="6.8" text-anchor="end" stroke="#111" stroke-width="0.1">3</text>
<line x1="179.4" y1="458.25" x2="181.6" y2="458.25" stroke="#2a2a2a" stroke-width="0.95"/>
<text x="179.3" y="460.49" font-size="6.8" text-anchor="end" stroke="#111" stroke-width="0.1">2</text>
<line x1="179.4" y1="480.38" x2="181.6" y2="480.38" stroke="#2a2a2a" stroke-width="0.95"/>
<text x="179.3" y="482.62" font-size="6.8" text-anchor="end" stroke="#111" stroke-width="0.1">1</text>
<line x1="179.4" y1="502.5" x2="181.6" y2="502.5" stroke="#2a2a2a" stroke-width="0.95"/>
<text x="179.3" y="504.74" font-size="6.8" text-anchor="end" stroke="#111" stroke-width="0.1">0</text>
<line x1="181.6" y1="502.5" x2="241.8" y2="502.5" stroke="#2a2a2a" stroke-width="0.95"/>
<line x1="198.6" y1="502.5" x2="198.6" y2="506.9" stroke="#2a2a2a" stroke-width="0.95"/>
<line x1="223.8" y1="502.5" x2="223.8" y2="506.9" stroke="#2a2a2a" stroke-width="0.95"/>
<text x="169.5" y="461.5" font-size="7.06" text-anchor="middle" transform="rotate(-90 169.5 461.5)" stroke="#111" stroke-width="0.1">Enrichment Fold</text>
<rect x="191.1" y="480.21" width="15.1" height="22.29" fill="#fff" stroke="#2b3d6b" stroke-width="1"/>
<line x1="198.65" y1="469.98" x2="198.65" y2="489.23" stroke="#2b3d6b" stroke-width="0.8"/>
<line x1="195.05" y1="469.98" x2="202.25" y2="469.98" stroke="#2b3d6b" stroke-width="0.8"/>
<line x1="195.05" y1="489.23" x2="202.25" y2="489.23" stroke="#2b3d6b" stroke-width="0.8"/>
<circle cx="195.15" cy="472.85" r="1.5" fill="#2b3d6b"/>
<circle cx="201.15" cy="474.62" r="1.5" fill="#2b3d6b"/>
<circle cx="198.65" cy="489" r="1.5" fill="#2b3d6b"/>
<rect x="216.4" y="439.5" width="14.9" height="63" fill="#fff" stroke="#e8a036" stroke-width="1"/>
<line x1="223.85" y1="428.16" x2="223.85" y2="448.96" stroke="#e8a036" stroke-width="0.8"/>
<line x1="220.25" y1="428.16" x2="227.45" y2="428.16" stroke="#e8a036" stroke-width="0.8"/>
<line x1="220.25" y1="448.96" x2="227.45" y2="448.96" stroke="#e8a036" stroke-width="0.8"/>
<rect x="222.35" y="427.1" width="3" height="3" fill="#e8a036"/>
<rect x="222.35" y="436.17" width="3" height="3" fill="#e8a036"/>
<rect x="222.35" y="447.01" width="3" height="3" fill="#e8a036"/>
<line x1="202.2" y1="424.8" x2="220.4" y2="424.8" stroke="#222" stroke-width="0.85"/>
<line x1="202.2" y1="422.6" x2="202.2" y2="427" stroke="#222" stroke-width="0.85"/>
<line x1="220.4" y1="422.6" x2="220.4" y2="427" stroke="#222" stroke-width="0.85"/>
<text x="211.3" y="425.4" font-size="8.2" text-anchor="middle" stroke="#111" stroke-width="0.1" letter-spacing="0.3">**</text>
<text x="200.9" y="511.3" font-size="7" text-anchor="end" transform="rotate(-45 200.9 511.3)" stroke="#111" stroke-width="0.1">anti-IgG</text>
<text x="226.1" y="511.3" font-size="7" text-anchor="end" transform="rotate(-45 226.1 511.3)" stroke="#111" stroke-width="0.1">anti-cebpβ</text>
<text x="268.2" y="418.3" font-size="12" font-weight="bold" fill="#1e1a1b" stroke="#1e1a1b" stroke-width="0.1">N</text>
<text x="325.4" y="405" font-size="7" text-anchor="middle" stroke="#111" stroke-width="0.1">MDA-MB-468 ChIP-PCR</text>
<line x1="304.7" y1="412.6" x2="304.7" y2="501.5" stroke="#2a2a2a" stroke-width="0.95"/>
<line x1="302.5" y1="412.6" x2="304.7" y2="412.6" stroke="#2a2a2a" stroke-width="0.95"/>
<text x="302.4" y="414.84" font-size="6.8" text-anchor="end" stroke="#111" stroke-width="0.1">15</text>
<line x1="302.5" y1="442.23" x2="304.7" y2="442.23" stroke="#2a2a2a" stroke-width="0.95"/>
<text x="302.4" y="444.48" font-size="6.8" text-anchor="end" stroke="#111" stroke-width="0.1">10</text>
<line x1="302.5" y1="471.87" x2="304.7" y2="471.87" stroke="#2a2a2a" stroke-width="0.95"/>
<text x="302.4" y="474.11" font-size="6.8" text-anchor="end" stroke="#111" stroke-width="0.1">5</text>
<line x1="302.5" y1="501.5" x2="304.7" y2="501.5" stroke="#2a2a2a" stroke-width="0.95"/>
<text x="302.4" y="503.74" font-size="6.8" text-anchor="end" stroke="#111" stroke-width="0.1">0</text>
<line x1="304.7" y1="501.5" x2="363.7" y2="501.5" stroke="#2a2a2a" stroke-width="0.95"/>
<line x1="321.3" y1="501.5" x2="321.3" y2="505.9" stroke="#2a2a2a" stroke-width="0.95"/>
<line x1="346.3" y1="501.5" x2="346.3" y2="505.9" stroke="#2a2a2a" stroke-width="0.95"/>
<text x="288.11" y="453.3" font-size="7.1" text-anchor="middle" transform="rotate(-90 288.11 453.3)" stroke="#111" stroke-width="0.1">Enrichment Fold</text>
<rect x="314" y="496.07" width="14.7" height="5.43" fill="#fff" stroke="#2b3d6b" stroke-width="1"/>
<line x1="321.35" y1="492.61" x2="321.35" y2="498.24" stroke="#2b3d6b" stroke-width="0.8"/>
<line x1="317.75" y1="492.61" x2="324.95" y2="492.61" stroke="#2b3d6b" stroke-width="0.8"/>
<line x1="317.75" y1="498.24" x2="324.95" y2="498.24" stroke="#2b3d6b" stroke-width="0.8"/>
<path d="M319.55 491.29L321.17 492.91L319.55 494.53L317.93 492.91Z" fill="#2b3d6b"/>
<path d="M323.15 491.88L324.77 493.5L323.15 495.12L321.53 493.5Z" fill="#2b3d6b"/>
<path d="M321.35 496.32L322.97 497.94L321.35 499.56L319.73 497.94Z" fill="#2b3d6b"/>
<rect x="338.7" y="456.96" width="15.1" height="44.54" fill="#fff" stroke="#e8a036" stroke-width="1"/>
<line x1="346.25" y1="444.6" x2="346.25" y2="466.53" stroke="#e8a036" stroke-width="0.8"/>
<line x1="342.65" y1="444.6" x2="349.85" y2="444.6" stroke="#e8a036" stroke-width="0.8"/>
<line x1="342.65" y1="466.53" x2="349.85" y2="466.53" stroke="#e8a036" stroke-width="0.8"/>
<rect x="344.75" y="441.92" width="3" height="3" fill="#e8a036"/>
<rect x="344.75" y="456.14" width="3" height="3" fill="#e8a036"/>
<rect x="344.75" y="464.44" width="3" height="3" fill="#e8a036"/>
<line x1="322.5" y1="434.8" x2="345.5" y2="434.8" stroke="#222" stroke-width="0.85"/>
<line x1="322.5" y1="432.6" x2="322.5" y2="437" stroke="#222" stroke-width="0.85"/>
<line x1="345.5" y1="432.6" x2="345.5" y2="437" stroke="#222" stroke-width="0.85"/>
<text x="334" y="435.4" font-size="8.2" text-anchor="middle" stroke="#111" stroke-width="0.1" letter-spacing="0.3">**</text>
<text x="323.2" y="509.8" font-size="7" text-anchor="end" transform="rotate(-45 323.2 509.8)" stroke="#111" stroke-width="0.1">anti-IgG</text>
<text x="348.2" y="509.8" font-size="7" text-anchor="end" transform="rotate(-45 348.2 509.8)" stroke="#111" stroke-width="0.1">anti-cebpβ</text>
<text x="400.6" y="419.1" font-size="12" font-weight="bold" fill="#1e1a1b" stroke="#1e1a1b" stroke-width="0.1">O</text>
<rect x="420.2" y="453.2" width="67.6" height="14" fill="#3d3d3d" stroke="#111" stroke-width="0.7"/>
<rect x="420.2" y="480.2" width="67.6" height="14.4" fill="#6b6b6b" stroke="#111" stroke-width="0.7"/>
<rect x="423.6" y="455.5" width="17.2" height="6.8" rx="3" fill="#000" filter="url(#bl2)"/>
<rect x="466.8" y="457.2" width="15.6" height="7.2" rx="3" fill="#111" filter="url(#bl2)"/>
<rect x="423.0" y="486.4" width="15.2" height="3.4" rx="1.7" fill="#000" filter="url(#bl1)"/>
<text x="418.7" y="461.6" font-size="7" text-anchor="end" stroke="#111" stroke-width="0.1">CEBPβ</text>
<text x="418.2" y="491" font-size="7" text-anchor="end" stroke="#111" stroke-width="0.1">LaminB</text>
<text x="490.7" y="461.6" font-size="7.2" stroke="#111" stroke-width="0.1">45KD</text>
<text x="490.7" y="492.2" font-size="7.2" stroke="#111" stroke-width="0.1">70KD</text>
<text x="453" y="507" font-size="6.9" text-anchor="middle" stroke="#111" stroke-width="0.1">MDA-MB-231</text>
<text x="431" y="448.8" font-size="6.9" transform="rotate(-56 431 448.8)" stroke="#111" stroke-width="0.1">Input</text>
<text x="455.3" y="448.8" font-size="6.9" transform="rotate(-56 455.3 448.8)" stroke="#111" stroke-width="0.1">NC</text>
<text x="479" y="448.8" font-size="6.9" transform="rotate(-56 479 448.8)" stroke="#111" stroke-width="0.1">LINC00882+</text>
<text x="1.2" y="536.8" font-size="12" font-weight="bold" fill="#1e1a1b" stroke="#1e1a1b" stroke-width="0.1">P</text>
<text x="77.8" y="542.2" font-size="6.9" text-anchor="middle" stroke="#111" stroke-width="0.1">MDA-MB-231</text>
<line x1="43.6" y1="549" x2="43.6" y2="632.8" stroke="#2a2a2a" stroke-width="0.95"/>
<line x1="41.4" y1="549" x2="43.6" y2="549" stroke="#2a2a2a" stroke-width="0.95"/>
<text x="41.3" y="551.24" font-size="6.8" text-anchor="end" stroke="#111" stroke-width="0.1">0.0010</text>
<line x1="41.4" y1="565.76" x2="43.6" y2="565.76" stroke="#2a2a2a" stroke-width="0.95"/>
<text x="41.3" y="568" font-size="6.8" text-anchor="end" stroke="#111" stroke-width="0.1">0.0008</text>
<line x1="41.4" y1="582.52" x2="43.6" y2="582.52" stroke="#2a2a2a" stroke-width="0.95"/>
<text x="41.3" y="584.76" font-size="6.8" text-anchor="end" stroke="#111" stroke-width="0.1">0.0006</text>
<line x1="41.4" y1="599.28" x2="43.6" y2="599.28" stroke="#2a2a2a" stroke-width="0.95"/>
<text x="41.3" y="601.52" font-size="6.8" text-anchor="end" stroke="#111" stroke-width="0.1">0.0004</text>
<line x1="41.4" y1="616.04" x2="43.6" y2="616.04" stroke="#2a2a2a" stroke-width="0.95"/>
<text x="41.3" y="618.28" font-size="6.8" text-anchor="end" stroke="#111" stroke-width="0.1">0.0002</text>
<line x1="41.4" y1="632.8" x2="43.6" y2="632.8" stroke="#2a2a2a" stroke-width="0.95"/>
<text x="41.3" y="635.04" font-size="6.8" text-anchor="end" stroke="#111" stroke-width="0.1">0.0000</text>
<line x1="43.6" y1="632.8" x2="118.9" y2="632.8" stroke="#2a2a2a" stroke-width="0.95"/>
<line x1="55.2" y1="632.8" x2="55.2" y2="636.5" stroke="#2a2a2a" stroke-width="0.95"/>
<line x1="72.4" y1="632.8" x2="72.4" y2="636.5" stroke="#2a2a2a" stroke-width="0.95"/>
<line x1="90.1" y1="632.8" x2="90.1" y2="636.5" stroke="#2a2a2a" stroke-width="0.95"/>
<line x1="107" y1="632.8" x2="107" y2="636.5" stroke="#2a2a2a" stroke-width="0.95"/>
<text x="15.07" y="597" font-size="6.97" text-anchor="middle" transform="rotate(-90 15.07 597)" stroke="#111" stroke-width="0.1">Relative expression of LINC00882</text>
<rect x="50.3" y="562.91" width="9.7" height="69.89" fill="#fff" stroke="#e8a036" stroke-width="1"/>
<line x1="55.15" y1="556.54" x2="55.15" y2="566.18" stroke="#e8a036" stroke-width="0.8"/>
<line x1="52.15" y1="556.54" x2="58.15" y2="556.54" stroke="#e8a036" stroke-width="0.8"/>
<line x1="52.15" y1="566.18" x2="58.15" y2="566.18" stroke="#e8a036" stroke-width="0.8"/>
<path d="M55.15 555.82L53.72 558.42L56.58 558.42Z" fill="#e8a036"/>
<path d="M54.15 562.52L52.72 565.12L55.58 565.12Z" fill="#e8a036"/>
<path d="M56.15 563.36L54.72 565.96L57.58 565.96Z" fill="#e8a036"/>
<rect x="67.4" y="607.32" width="10" height="25.48" fill="#fff" stroke="#2b3d6b" stroke-width="1"/>
<line x1="72.4" y1="599.28" x2="72.4" y2="611.85" stroke="#2b3d6b" stroke-width="0.8"/>
<line x1="69.32" y1="599.28" x2="75.48" y2="599.28" stroke="#2b3d6b" stroke-width="0.8"/>
<line x1="69.32" y1="611.85" x2="75.48" y2="611.85" stroke="#2b3d6b" stroke-width="0.8"/>
<path d="M72.4 599.4L70.97 602L73.83 602Z" fill="#2b3d6b"/>
<path d="M72.4 605.26L70.97 607.86L73.83 607.86Z" fill="#2b3d6b"/>
<path d="M72.4 609.45L70.97 612.05L73.83 612.05Z" fill="#2b3d6b"/>
<rect x="85.1" y="600.62" width="10" height="32.18" fill="#fff" stroke="#e4474c" stroke-width="1"/>
<line x1="90.1" y1="598.44" x2="90.1" y2="601.79" stroke="#e4474c" stroke-width="0.8"/>
<line x1="87.02" y1="598.44" x2="93.18" y2="598.44" stroke="#e4474c" stroke-width="0.8"/>
<line x1="87.02" y1="601.79" x2="93.18" y2="601.79" stroke="#e4474c" stroke-width="0.8"/>
<path d="M89.1 597.72L87.67 600.32L90.53 600.32Z" fill="#e4474c"/>
<path d="M91.1 598.56L89.67 601.16L92.53 601.16Z" fill="#e4474c"/>
<path d="M90.1 599.4L88.67 602L91.53 602Z" fill="#e4474c"/>
<rect x="102.2" y="627.43" width="9.6" height="5.37" fill="#fff" stroke="#4561bc" stroke-width="1"/>
<line x1="107" y1="626.26" x2="107" y2="627.6" stroke="#4561bc" stroke-width="0.8"/>
<line x1="104.03" y1="626.26" x2="109.97" y2="626.26" stroke="#4561bc" stroke-width="0.8"/>
<line x1="104.03" y1="627.6" x2="109.97" y2="627.6" stroke="#4561bc" stroke-width="0.8"/>
<path d="M105.5 625.37L104.07 627.97L106.93 627.97Z" fill="#4561bc"/>
<path d="M108.5 625.37L107.07 627.97L109.93 627.97Z" fill="#4561bc"/>
<path d="M107 625.37L105.57 627.97L108.43 627.97Z" fill="#4561bc"/>
<line x1="56.9" y1="552.7" x2="88.2" y2="552.7" stroke="#222" stroke-width="0.85"/>
<line x1="56.9" y1="550.5" x2="56.9" y2="554.9" stroke="#222" stroke-width="0.85"/>
<line x1="88.2" y1="550.5" x2="88.2" y2="554.9" stroke="#222" stroke-width="0.85"/>
<text x="73.85" y="553.9" font-size="8.2" text-anchor="middle" stroke="#111" stroke-width="0.1" letter-spacing="0.3">****</text>
<line x1="90.2" y1="592.4" x2="110.8" y2="592.4" stroke="#222" stroke-width="0.85"/>
<line x1="90.2" y1="590.2" x2="90.2" y2="594.6" stroke="#222" stroke-width="0.85"/>
<line x1="110.8" y1="590.2" x2="110.8" y2="594.6" stroke="#222" stroke-width="0.85"/>
<text x="100.5" y="593" font-size="8.2" text-anchor="middle" stroke="#111" stroke-width="0.1" letter-spacing="0.3">***</text>
<text x="58.1" y="640.9" font-size="6.8" text-anchor="end" transform="rotate(-45 58.1 640.9)" stroke="#111" stroke-width="0.1">si-HDAC1+CEBPβ</text>
<text x="75.3" y="640.9" font-size="6.8" text-anchor="end" transform="rotate(-45 75.3 640.9)" stroke="#111" stroke-width="0.1">si-HDAC1+pcDNA3.1</text>
<text x="93" y="640.9" font-size="6.8" text-anchor="end" transform="rotate(-45 93 640.9)" stroke="#111" stroke-width="0.1">si-NC+CEBPβ</text>
<text x="109.9" y="640.9" font-size="6.8" text-anchor="end" transform="rotate(-45 109.9 640.9)" stroke="#111" stroke-width="0.1">si-NC+pcDNA3.1</text>
<text x="131.4" y="538.3" font-size="12" font-weight="bold" fill="#1e1a1b" stroke="#1e1a1b" stroke-width="0.1">Q</text>
<text x="204.4" y="549.7" font-size="7" text-anchor="middle" stroke="#111" stroke-width="0.1">MDA-MB-468</text>
<line x1="166.3" y1="548.5" x2="166.3" y2="633.3" stroke="#2a2a2a" stroke-width="0.95"/>
<line x1="164.1" y1="548.5" x2="166.3" y2="548.5" stroke="#2a2a2a" stroke-width="0.95"/>
<text x="164" y="550.74" font-size="6.8" text-anchor="end" stroke="#111" stroke-width="0.1">0.0015</text>
<line x1="164.1" y1="576.77" x2="166.3" y2="576.77" stroke="#2a2a2a" stroke-width="0.95"/>
<text x="164" y="579.01" font-size="6.8" text-anchor="end" stroke="#111" stroke-width="0.1">0.0010</text>
<line x1="164.1" y1="605.03" x2="166.3" y2="605.03" stroke="#2a2a2a" stroke-width="0.95"/>
<text x="164" y="607.28" font-size="6.8" text-anchor="end" stroke="#111" stroke-width="0.1">0.0005</text>
<line x1="164.1" y1="633.3" x2="166.3" y2="633.3" stroke="#2a2a2a" stroke-width="0.95"/>
<text x="164" y="635.54" font-size="6.8" text-anchor="end" stroke="#111" stroke-width="0.1">0.0000</text>
<line x1="166.3" y1="633.3" x2="250.4" y2="633.3" stroke="#2a2a2a" stroke-width="0.95"/>
<line x1="179.3" y1="633.3" x2="179.3" y2="636.7" stroke="#2a2a2a" stroke-width="0.95"/>
<line x1="198.9" y1="633.3" x2="198.9" y2="636.7" stroke="#2a2a2a" stroke-width="0.95"/>
<line x1="218.3" y1="633.3" x2="218.3" y2="636.7" stroke="#2a2a2a" stroke-width="0.95"/>
<line x1="237.6" y1="633.3" x2="237.6" y2="636.7" stroke="#2a2a2a" stroke-width="0.95"/>
<text x="139.37" y="593.5" font-size="6.97" text-anchor="middle" transform="rotate(-90 139.37 593.5)" stroke="#111" stroke-width="0.1">Relative expression of LINC00882</text>
<rect x="173.4" y="586.88" width="11.8" height="46.42" fill="#fff" stroke="#e8a036" stroke-width="1"/>
<line x1="179.3" y1="578.46" x2="179.3" y2="592.6" stroke="#e8a036" stroke-width="0.8"/>
<line x1="175.72" y1="578.46" x2="182.88" y2="578.46" stroke="#e8a036" stroke-width="0.8"/>
<line x1="175.72" y1="592.6" x2="182.88" y2="592.6" stroke="#e8a036" stroke-width="0.8"/>
<path d="M179.3 577.47L177.87 580.07L180.73 580.07Z" fill="#e8a036"/>
<path d="M178.3 586.51L176.87 589.11L179.73 589.11Z" fill="#e8a036"/>
<path d="M180.3 589.34L178.87 591.94L181.73 591.94Z" fill="#e8a036"/>
<rect x="193.1" y="623.62" width="11.7" height="9.68" fill="#fff" stroke="#2b3d6b" stroke-width="1"/>
<line x1="198.95" y1="621.43" x2="198.95" y2="624.25" stroke="#2b3d6b" stroke-width="0.8"/>
<line x1="195.39" y1="621.43" x2="202.51" y2="621.43" stroke="#2b3d6b" stroke-width="0.8"/>
<line x1="195.39" y1="624.25" x2="202.51" y2="624.25" stroke="#2b3d6b" stroke-width="0.8"/>
<circle cx="197.45" cy="622.56" r="1.3" fill="#2b3d6b"/>
<circle cx="200.45" cy="623.12" r="1.3" fill="#2b3d6b"/>
<circle cx="198.95" cy="623.12" r="1.3" fill="#2b3d6b"/>
<rect x="212.7" y="626.45" width="11.2" height="6.85" fill="#fff" stroke="#e4474c" stroke-width="1"/>
<line x1="218.3" y1="624.82" x2="218.3" y2="627.08" stroke="#e4474c" stroke-width="0.8"/>
<line x1="214.88" y1="624.82" x2="221.72" y2="624.82" stroke="#e4474c" stroke-width="0.8"/>
<line x1="214.88" y1="627.08" x2="221.72" y2="627.08" stroke="#e4474c" stroke-width="0.8"/>
<path d="M216.8 623.83L215.37 626.43L218.23 626.43Z" fill="#e4474c"/>
<path d="M219.8 624.39L218.37 626.99L221.23 626.99Z" fill="#e4474c"/>
<path d="M218.3 624.96L216.87 627.56L219.73 627.56Z" fill="#e4474c"/>
<rect x="232.1" y="629.28" width="10.9" height="4.02" fill="#fff" stroke="#4561bc" stroke-width="1"/>
<line x1="237.55" y1="628.33" x2="237.55" y2="629.23" stroke="#4561bc" stroke-width="0.8"/>
<line x1="234.22" y1="628.33" x2="240.88" y2="628.33" stroke="#4561bc" stroke-width="0.8"/>
<line x1="234.22" y1="629.23" x2="240.88" y2="629.23" stroke="#4561bc" stroke-width="0.8"/>
<path d="M236.05 627.22L234.62 629.82L237.48 629.82Z" fill="#4561bc"/>
<path d="M239.05 627.22L237.62 629.82L240.48 629.82Z" fill="#4561bc"/>
<path d="M237.55 627.22L236.12 629.82L238.98 629.82Z" fill="#4561bc"/>
<line x1="181.6" y1="574.7" x2="195.1" y2="574.7" stroke="#222" stroke-width="0.85"/>
<line x1="181.6" y1="572.5" x2="181.6" y2="576.9" stroke="#222" stroke-width="0.85"/>
<line x1="195.1" y1="572.5" x2="195.1" y2="576.9" stroke="#222" stroke-width="0.85"/>
<text x="188.35" y="575.3" font-size="8.2" text-anchor="middle" stroke="#111" stroke-width="0.1" letter-spacing="0.3">***</text>
<line x1="181.6" y1="568.8" x2="219.8" y2="568.8" stroke="#222" stroke-width="0.85"/>
<line x1="181.6" y1="566.6" x2="181.6" y2="571" stroke="#222" stroke-width="0.85"/>
<line x1="219.8" y1="566.6" x2="219.8" y2="571" stroke="#222" stroke-width="0.85"/>
<text x="200.7" y="569.4" font-size="8.2" text-anchor="middle" stroke="#111" stroke-width="0.1" letter-spacing="0.3">***</text>
<line x1="225.7" y1="615.5" x2="241.5" y2="615.5" stroke="#222" stroke-width="0.85"/>
<line x1="225.7" y1="613.3" x2="225.7" y2="617.7" stroke="#222" stroke-width="0.85"/>
<line x1="241.5" y1="613.3" x2="241.5" y2="617.7" stroke="#222" stroke-width="0.85"/>
<text x="233.6" y="616.1" font-size="8.2" text-anchor="middle" stroke="#111" stroke-width="0.1" letter-spacing="0.3">*</text>
<text x="184.2" y="639.4" font-size="7" text-anchor="end" transform="rotate(-45 184.2 639.4)" stroke="#111" stroke-width="0.1">si-HDAC1+CEBPβ</text>
<text x="204.7" y="638.5" font-size="7" text-anchor="end" transform="rotate(-45 204.7 638.5)" stroke="#111" stroke-width="0.1">si-HDAC1+pcDNA3.1</text>
<text x="227.4" y="641.9" font-size="7" text-anchor="end" transform="rotate(-45 227.4 641.9)" stroke="#111" stroke-width="0.1">si-NC+CEBPβ</text>
<text x="243.4" y="641.9" font-size="7" text-anchor="end" transform="rotate(-45 243.4 641.9)" stroke="#111" stroke-width="0.1">si-NC+pcDNA3.1</text>
<text x="266.9" y="537.2" font-size="12" font-weight="bold" fill="#1e1a1b" stroke="#1e1a1b" stroke-width="0.1">R</text>
<line x1="285.3" y1="562.2" x2="285.3" y2="623.1" stroke="#2a2a2a" stroke-width="0.95"/>
<line x1="283.7" y1="562.2" x2="285.3" y2="562.2" stroke="#2a2a2a" stroke-width="0.95"/>
<text x="283.3" y="563.65" font-size="4.4" text-anchor="end" stroke="#111" stroke-width="0.1">400</text>
<line x1="283.7" y1="577.43" x2="285.3" y2="577.43" stroke="#2a2a2a" stroke-width="0.95"/>
<text x="283.3" y="578.88" font-size="4.4" text-anchor="end" stroke="#111" stroke-width="0.1">300</text>
<line x1="283.7" y1="592.65" x2="285.3" y2="592.65" stroke="#2a2a2a" stroke-width="0.95"/>
<text x="283.3" y="594.1" font-size="4.4" text-anchor="end" stroke="#111" stroke-width="0.1">200</text>
<line x1="283.7" y1="607.88" x2="285.3" y2="607.88" stroke="#2a2a2a" stroke-width="0.95"/>
<text x="283.3" y="609.33" font-size="4.4" text-anchor="end" stroke="#111" stroke-width="0.1">100</text>
<line x1="283.7" y1="623.1" x2="285.3" y2="623.1" stroke="#2a2a2a" stroke-width="0.95"/>
<text x="283.3" y="624.55" font-size="4.4" text-anchor="end" stroke="#111" stroke-width="0.1">0</text>
<line x1="285.3" y1="623.1" x2="377.8" y2="623.1" stroke="#2a2a2a" stroke-width="0.8"/>
<line x1="285.3" y1="623.1" x2="285.3" y2="624.8" stroke="#2a2a2a" stroke-width="0.8"/>
<line x1="303.8" y1="623.1" x2="303.8" y2="624.8" stroke="#2a2a2a" stroke-width="0.8"/>
<line x1="322.3" y1="623.1" x2="322.3" y2="624.8" stroke="#2a2a2a" stroke-width="0.8"/>
<line x1="340.8" y1="623.1" x2="340.8" y2="624.8" stroke="#2a2a2a" stroke-width="0.8"/>
<line x1="359.3" y1="623.1" x2="359.3" y2="624.8" stroke="#2a2a2a" stroke-width="0.8"/>
<line x1="377.8" y1="623.1" x2="377.8" y2="624.8" stroke="#2a2a2a" stroke-width="0.8"/>
<text x="285.3" y="629.9" font-size="4.4" text-anchor="middle" stroke="#111" stroke-width="0.1">0.0001</text>
<text x="303.8" y="629.9" font-size="4.4" text-anchor="middle" stroke="#111" stroke-width="0.1">0.001</text>
<text x="322.3" y="629.9" font-size="4.4" text-anchor="middle" stroke="#111" stroke-width="0.1">0.01</text>
<text x="340.8" y="629.9" font-size="4.4" text-anchor="middle" stroke="#111" stroke-width="0.1">0.1</text>
<text x="359.3" y="629.9" font-size="4.4" text-anchor="middle" stroke="#111" stroke-width="0.1">1</text>
<text x="377.8" y="629.9" font-size="4.4" text-anchor="middle" stroke="#111" stroke-width="0.1">10</text>
<text x="331" y="636.7" font-size="5.05" text-anchor="middle" font-weight="bold" stroke="#111" stroke-width="0.1">The expression of LINC00882</text>
<text x="266.4" y="592.9" font-size="5.1" text-anchor="middle" transform="rotate(-90 266.4 592.9)" stroke="#111" stroke-width="0.1">The expression of CEBP-β</text>
<line x1="289.2" y1="604.2" x2="373.3" y2="590" stroke="#111" stroke-width="0.8"/>
<circle cx="289.6" cy="600.1" r="1.4" fill="#111"/>
<circle cx="294.8" cy="608" r="1.4" fill="#111"/>
<circle cx="298.2" cy="583.6" r="1.4" fill="#111"/>
<circle cx="301.1" cy="595.6" r="1.4" fill="#111"/>
<circle cx="306.1" cy="603" r="1.4" fill="#111"/>
<circle cx="308.3" cy="600.1" r="1.4" fill="#111"/>
<circle cx="308.3" cy="606.4" r="1.4" fill="#111"/>
<circle cx="310.1" cy="609.1" r="1.4" fill="#111"/>
<circle cx="310.1" cy="612.5" r="1.4" fill="#111"/>
<circle cx="310.6" cy="595.6" r="1.4" fill="#111"/>
<circle cx="311" cy="597.2" r="1.4" fill="#111"/>
<circle cx="311.3" cy="591.1" r="1.4" fill="#111"/>
<circle cx="311.7" cy="606.4" r="1.4" fill="#111"/>
<circle cx="315.1" cy="606.4" r="1.4" fill="#111"/>
<circle cx="316.7" cy="603.5" r="1.4" fill="#111"/>
<circle cx="316.7" cy="615.4" r="1.4" fill="#111"/>
<circle cx="318" cy="606.4" r="1.4" fill="#111"/>
<circle cx="318.5" cy="609.1" r="1.4" fill="#111"/>
<circle cx="318" cy="582.1" r="1.4" fill="#111"/>
<circle cx="320.7" cy="617" r="1.4" fill="#111"/>
<circle cx="321.9" cy="592.7" r="1.4" fill="#111"/>
<circle cx="321.9" cy="582.1" r="1.4" fill="#111"/>
<circle cx="322.3" cy="601.9" r="1.4" fill="#111"/>
<circle cx="324.1" cy="601.9" r="1.4" fill="#111"/>
<circle cx="325.2" cy="582.1" r="1.4" fill="#111"/>
<circle cx="325.9" cy="605.1" r="1.4" fill="#111"/>
<circle cx="338.8" cy="584.8" r="1.4" fill="#111"/>
<circle cx="341.7" cy="592.2" r="1.4" fill="#111"/>
<circle cx="341.7" cy="599" r="1.4" fill="#111"/>
<circle cx="342.2" cy="580.3" r="1.4" fill="#111"/>
<circle cx="344" cy="577.1" r="1.4" fill="#111"/>
<circle cx="344" cy="594.5" r="1.4" fill="#111"/>
<circle cx="344" cy="609.1" r="1.4" fill="#111"/>
<circle cx="348.9" cy="584.8" r="1.4" fill="#111"/>
<circle cx="349.4" cy="596.7" r="1.4" fill="#111"/>
<circle cx="350.5" cy="600.1" r="1.4" fill="#111"/>
<circle cx="354.6" cy="595.6" r="1.4" fill="#111"/>
<circle cx="362" cy="578.7" r="1.4" fill="#111"/>
<circle cx="368.1" cy="592.7" r="1.4" fill="#111"/>
<circle cx="373" cy="604.6" r="1.4" fill="#111"/>
<circle cx="335.4" cy="569" r="0.75" fill="#888"/>
<text x="390.2" y="536.6" font-size="12" font-weight="bold" fill="#1e1a1b" stroke="#1e1a1b" stroke-width="0.1">S</text>
<line x1="414.8" y1="568" x2="414.8" y2="623.6" stroke="#2a2a2a" stroke-width="0.95"/>
<line x1="413.2" y1="568" x2="414.8" y2="568" stroke="#2a2a2a" stroke-width="0.95"/>
<text x="412.8" y="569.45" font-size="4.4" text-anchor="end" stroke="#111" stroke-width="0.1">300</text>
<line x1="413.2" y1="586.53" x2="414.8" y2="586.53" stroke="#2a2a2a" stroke-width="0.95"/>
<text x="412.8" y="587.99" font-size="4.4" text-anchor="end" stroke="#111" stroke-width="0.1">200</text>
<line x1="413.2" y1="605.07" x2="414.8" y2="605.07" stroke="#2a2a2a" stroke-width="0.95"/>
<text x="412.8" y="606.52" font-size="4.4" text-anchor="end" stroke="#111" stroke-width="0.1">100</text>
<line x1="413.2" y1="623.6" x2="414.8" y2="623.6" stroke="#2a2a2a" stroke-width="0.95"/>
<text x="412.8" y="625.05" font-size="4.4" text-anchor="end" stroke="#111" stroke-width="0.1">0</text>
<line x1="414.8" y1="623.6" x2="498.5" y2="623.6" stroke="#2a2a2a" stroke-width="0.8"/>
<line x1="414.8" y1="623.6" x2="414.8" y2="625.3" stroke="#2a2a2a" stroke-width="0.8"/>
<line x1="431.54" y1="623.6" x2="431.54" y2="625.3" stroke="#2a2a2a" stroke-width="0.8"/>
<line x1="448.28" y1="623.6" x2="448.28" y2="625.3" stroke="#2a2a2a" stroke-width="0.8"/>
<line x1="465.02" y1="623.6" x2="465.02" y2="625.3" stroke="#2a2a2a" stroke-width="0.8"/>
<line x1="481.76" y1="623.6" x2="481.76" y2="625.3" stroke="#2a2a2a" stroke-width="0.8"/>
<line x1="498.5" y1="623.6" x2="498.5" y2="625.3" stroke="#2a2a2a" stroke-width="0.8"/>
<text x="414.8" y="630.3" font-size="4.4" text-anchor="middle" stroke="#111" stroke-width="0.1">0.0001</text>
<text x="431.54" y="630.3" font-size="4.4" text-anchor="middle" stroke="#111" stroke-width="0.1">0.001</text>
<text x="448.28" y="630.3" font-size="4.4" text-anchor="middle" stroke="#111" stroke-width="0.1">0.01</text>
<text x="465.02" y="630.3" font-size="4.4" text-anchor="middle" stroke="#111" stroke-width="0.1">0.1</text>
<text x="481.76" y="630.3" font-size="4.4" text-anchor="middle" stroke="#111" stroke-width="0.1">1</text>
<text x="498.5" y="630.3" font-size="4.4" text-anchor="middle" stroke="#111" stroke-width="0.1">10</text>
<text x="457.6" y="636.6" font-size="4.65" text-anchor="middle" font-weight="bold" stroke="#111" stroke-width="0.1">The expression of LINC00882</text>
<text x="398.2" y="595.8" font-size="4.8" text-anchor="middle" transform="rotate(-90 398.2 595.8)" stroke="#111" stroke-width="0.1">The expression of HDAC1</text>
<line x1="418.7" y1="597.1" x2="495.3" y2="611.3" stroke="#111" stroke-width="0.8"/>
<circle cx="418.7" cy="610.7" r="1.4" fill="#111"/>
<circle cx="423.7" cy="586.5" r="1.4" fill="#111"/>
<circle cx="429.1" cy="590.2" r="1.4" fill="#111"/>
<circle cx="433.8" cy="597.7" r="1.4" fill="#111"/>
<circle cx="436" cy="576.8" r="1.4" fill="#111"/>
<circle cx="436" cy="601" r="1.4" fill="#111"/>
<circle cx="437.7" cy="603.1" r="1.4" fill="#111"/>
<circle cx="437.7" cy="612.8" r="1.4" fill="#111"/>
<circle cx="438.1" cy="620.4" r="1.4" fill="#111"/>
<circle cx="439.2" cy="606.4" r="1.4" fill="#111"/>
<circle cx="439.2" cy="612.8" r="1.4" fill="#111"/>
<circle cx="442.5" cy="605.3" r="1.4" fill="#111"/>
<circle cx="442.9" cy="608.5" r="1.4" fill="#111"/>
<circle cx="443.5" cy="570.4" r="1.4" fill="#111"/>
<circle cx="444.2" cy="596.2" r="1.4" fill="#111"/>
<circle cx="444.6" cy="596.2" r="1.4" fill="#111"/>
<circle cx="444.6" cy="605.3" r="1.4" fill="#111"/>
<circle cx="445.7" cy="606.4" r="1.4" fill="#111"/>
<circle cx="447.2" cy="599.5" r="1.4" fill="#111"/>
<circle cx="447.8" cy="603.1" r="1.4" fill="#111"/>
<circle cx="447.8" cy="607" r="1.4" fill="#111"/>
<circle cx="448.5" cy="618.2" r="1.4" fill="#111"/>
<circle cx="451.1" cy="589.1" r="1.4" fill="#111"/>
<circle cx="451.5" cy="603.1" r="1.4" fill="#111"/>
<circle cx="452.2" cy="615.7" r="1.4" fill="#111"/>
<circle cx="464" cy="606.4" r="1.4" fill="#111"/>
<circle cx="466.2" cy="580.9" r="1.4" fill="#111"/>
<circle cx="466.6" cy="584.4" r="1.4" fill="#111"/>
<circle cx="466.8" cy="588" r="1.4" fill="#111"/>
<circle cx="468.3" cy="605.3" r="1.4" fill="#111"/>
<circle cx="468.8" cy="612.4" r="1.4" fill="#111"/>
<circle cx="468.8" cy="620" r="1.4" fill="#111"/>
<circle cx="473.1" cy="610.7" r="1.4" fill="#111"/>
<circle cx="473.1" cy="618.2" r="1.4" fill="#111"/>
<circle cx="473.7" cy="602.5" r="1.4" fill="#111"/>
<circle cx="474.4" cy="606.4" r="1.4" fill="#111"/>
<circle cx="478" cy="620" r="1.4" fill="#111"/>
<circle cx="485.2" cy="608.5" r="1.4" fill="#111"/>
<circle cx="491" cy="609.2" r="1.4" fill="#111"/>
<circle cx="494.9" cy="618.2" r="1.4" fill="#111"/>
<circle cx="460.8" cy="574" r="0.75" fill="#888"/></svg></body></html>
